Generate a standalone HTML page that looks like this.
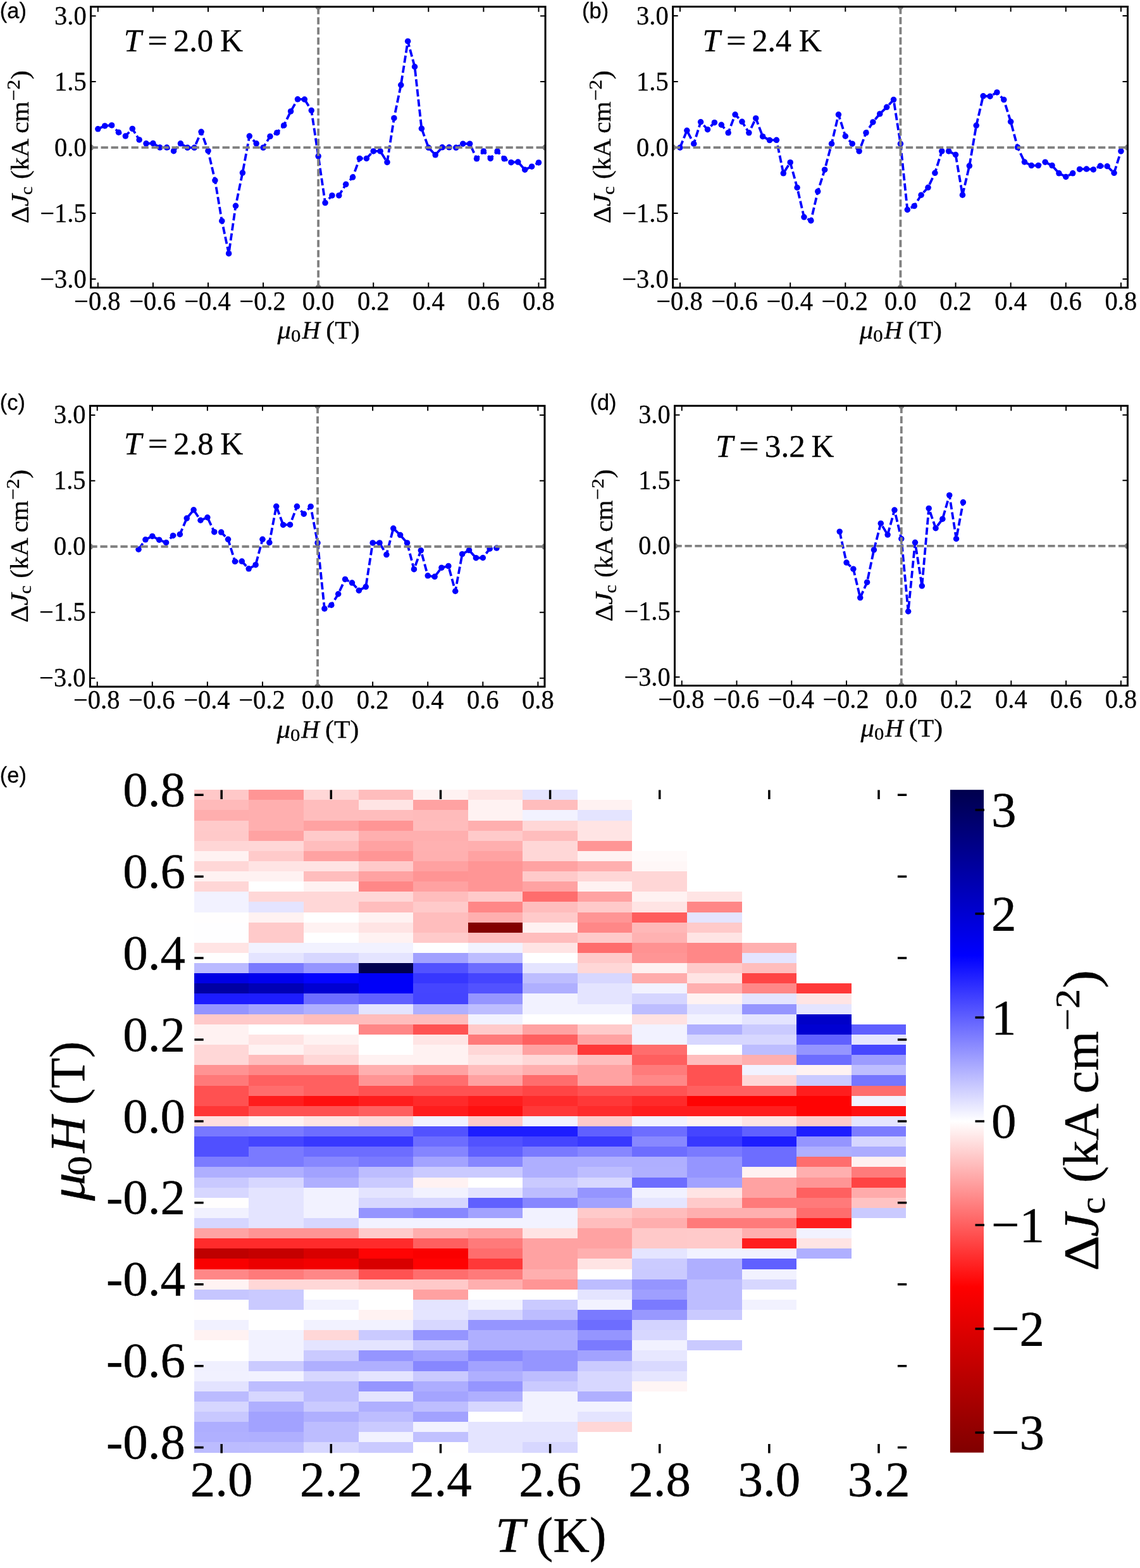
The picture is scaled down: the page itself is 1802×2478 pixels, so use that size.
<!DOCTYPE html>
<html lang="en"><head><meta charset="utf-8"><title>Figure</title><style>html,body{margin:0;padding:0;background:#fff}svg{display:block}</style></head>
<body>
<svg width="1802" height="2478" viewBox="0 0 1802 2478" role="img" aria-label="Figure: critical current asymmetry versus field and temperature">
<rect width="1802" height="2478" fill="#fff"/>
<g>
<path d="M154.83 454.5v-8.0M154.83 10.65v8.0M241.91 454.5v-8.0M241.91 10.65v8.0M328.99 454.5v-8.0M328.99 10.65v8.0M416.07 454.5v-8.0M416.07 10.65v8.0M503.15 454.5v-8.0M503.15 10.65v8.0M590.23 454.5v-8.0M590.23 10.65v8.0M677.31 454.5v-8.0M677.31 10.65v8.0M764.39 454.5v-8.0M764.39 10.65v8.0M851.47 454.5v-8.0M851.47 10.65v8.0M143.55 440.97h8.0M862.05 440.97h-8.0M143.55 337.02h8.0M862.05 337.02h-8.0M143.55 233.07h8.0M862.05 233.07h-8.0M143.55 129.12h8.0M862.05 129.12h-8.0M143.55 25.18h8.0M862.05 25.18h-8.0" stroke="#000" stroke-width="2" fill="none"/>
<clipPath id="clip_a"><rect x="143.55" y="10.65" width="718.5" height="443.85"/></clipPath>
<g clip-path="url(#clip_a)">
<polyline points="154.83,203.82 165.71,198.88 176.6,197.97 187.48,209.22 198.37,215.07 209.25,203.38 220.14,220.92 231.02,226.77 241.91,226.55 252.79,233.07 263.68,233.07 274.56,238.7 285.45,226.77 296.33,233.3 307.22,233.3 318.1,208.32 328.99,238.47 339.88,285.05 350.76,349.17 361.64,400.7 372.53,325.32 383.41,273.12 394.3,215.07 405.19,226.77 416.07,233.3 426.95,215.52 437.84,209.67 448.72,198.2 459.61,175.92 470.5,156.8 481.38,157.02 492.26,174.57 503.15,246.8 514.03,320.6 524.92,308.9 535.8,308.9 546.69,291.35 557.57,280.1 568.46,250.4 579.35,250.4 590.23,238.92 601.12,238.92 612,256.47 622.88,186.72 633.77,134.3 644.65,65.22 655.54,105.5 666.42,203.15 677.31,233.3 688.19,244.77 699.08,232.85 709.97,232.85 720.85,233.3 731.74,227.22 742.62,227.22 753.5,250.85 764.39,238.92 775.27,250.4 786.16,238.92 797.04,250.85 807.93,256.7 818.82,256.02 829.7,268.17 840.59,263.22 851.47,256.93" fill="none" stroke="#0000ff" stroke-width="3.8" stroke-dasharray="11.5 4.5" stroke-linejoin="round"/>
<g fill="#0000ff"><circle cx="154.83" cy="203.82" r="4.75"/><circle cx="165.71" cy="198.88" r="4.75"/><circle cx="176.6" cy="197.97" r="4.75"/><circle cx="187.48" cy="209.22" r="4.75"/><circle cx="198.37" cy="215.07" r="4.75"/><circle cx="209.25" cy="203.38" r="4.75"/><circle cx="220.14" cy="220.92" r="4.75"/><circle cx="231.02" cy="226.77" r="4.75"/><circle cx="241.91" cy="226.55" r="4.75"/><circle cx="252.79" cy="233.07" r="4.75"/><circle cx="263.68" cy="233.07" r="4.75"/><circle cx="274.56" cy="238.7" r="4.75"/><circle cx="285.45" cy="226.77" r="4.75"/><circle cx="296.33" cy="233.3" r="4.75"/><circle cx="307.22" cy="233.3" r="4.75"/><circle cx="318.1" cy="208.32" r="4.75"/><circle cx="328.99" cy="238.47" r="4.75"/><circle cx="339.88" cy="285.05" r="4.75"/><circle cx="350.76" cy="349.17" r="4.75"/><circle cx="361.64" cy="400.7" r="4.75"/><circle cx="372.53" cy="325.32" r="4.75"/><circle cx="383.41" cy="273.12" r="4.75"/><circle cx="394.3" cy="215.07" r="4.75"/><circle cx="405.19" cy="226.77" r="4.75"/><circle cx="416.07" cy="233.3" r="4.75"/><circle cx="426.95" cy="215.52" r="4.75"/><circle cx="437.84" cy="209.67" r="4.75"/><circle cx="448.72" cy="198.2" r="4.75"/><circle cx="459.61" cy="175.92" r="4.75"/><circle cx="470.5" cy="156.8" r="4.75"/><circle cx="481.38" cy="157.02" r="4.75"/><circle cx="492.26" cy="174.57" r="4.75"/><circle cx="503.15" cy="246.8" r="4.75"/><circle cx="514.03" cy="320.6" r="4.75"/><circle cx="524.92" cy="308.9" r="4.75"/><circle cx="535.8" cy="308.9" r="4.75"/><circle cx="546.69" cy="291.35" r="4.75"/><circle cx="557.57" cy="280.1" r="4.75"/><circle cx="568.46" cy="250.4" r="4.75"/><circle cx="579.35" cy="250.4" r="4.75"/><circle cx="590.23" cy="238.92" r="4.75"/><circle cx="601.12" cy="238.92" r="4.75"/><circle cx="612" cy="256.47" r="4.75"/><circle cx="622.88" cy="186.72" r="4.75"/><circle cx="633.77" cy="134.3" r="4.75"/><circle cx="644.65" cy="65.22" r="4.75"/><circle cx="655.54" cy="105.5" r="4.75"/><circle cx="666.42" cy="203.15" r="4.75"/><circle cx="677.31" cy="233.3" r="4.75"/><circle cx="688.19" cy="244.77" r="4.75"/><circle cx="699.08" cy="232.85" r="4.75"/><circle cx="709.97" cy="232.85" r="4.75"/><circle cx="720.85" cy="233.3" r="4.75"/><circle cx="731.74" cy="227.22" r="4.75"/><circle cx="742.62" cy="227.22" r="4.75"/><circle cx="753.5" cy="250.85" r="4.75"/><circle cx="764.39" cy="238.92" r="4.75"/><circle cx="775.27" cy="250.4" r="4.75"/><circle cx="786.16" cy="238.92" r="4.75"/><circle cx="797.04" cy="250.85" r="4.75"/><circle cx="807.93" cy="256.7" r="4.75"/><circle cx="818.82" cy="256.02" r="4.75"/><circle cx="829.7" cy="268.17" r="4.75"/><circle cx="840.59" cy="263.22" r="4.75"/><circle cx="851.47" cy="256.93" r="4.75"/></g>
<path d="M143.55 233.07H862.05M503.15 454.5V10.65" fill="none" stroke="#808080" stroke-width="3.8" stroke-dasharray="11.3 4.7" stroke-dashoffset="0"/>
<g fill="#808080"><circle cx="143.55" cy="233.07" r="4.75"/><circle cx="862.05" cy="233.07" r="4.75"/><circle cx="503.15" cy="10.65" r="4.75"/><circle cx="503.15" cy="454.5" r="4.75"/></g>
</g>
<rect x="143.55" y="10.65" width="718.5" height="443.85" fill="none" stroke="#000" stroke-width="3"/>
<g font-family="'Liberation Serif','DejaVu Serif',serif" font-size="41.9" fill="#000" stroke="#000" stroke-width="0.3" stroke-linejoin="round">
<text transform="translate(153.83 489.6) scale(0.9666 1)" text-anchor="middle">−0.8</text>
<text transform="translate(240.91 489.6) scale(0.9666 1)" text-anchor="middle">−0.6</text>
<text transform="translate(327.99 489.6) scale(0.9666 1)" text-anchor="middle">−0.4</text>
<text transform="translate(415.07 489.6) scale(0.9666 1)" text-anchor="middle">−0.2</text>
<text transform="translate(503.15 489.6) scale(0.9666 1)" text-anchor="middle">0.0</text>
<text transform="translate(590.23 489.6) scale(0.9666 1)" text-anchor="middle">0.2</text>
<text transform="translate(677.31 489.6) scale(0.9666 1)" text-anchor="middle">0.4</text>
<text transform="translate(764.39 489.6) scale(0.9666 1)" text-anchor="middle">0.6</text>
<text transform="translate(851.47 489.6) scale(0.9666 1)" text-anchor="middle">0.8</text>
<text transform="translate(136.65 454.57) scale(0.9666 1)" text-anchor="end">−3.0</text>
<text transform="translate(136.65 350.62) scale(0.9666 1)" text-anchor="end">−1.5</text>
<text transform="translate(136.65 246.67) scale(0.9666 1)" text-anchor="end">0.0</text>
<text transform="translate(136.65 142.72) scale(0.9666 1)" text-anchor="end">1.5</text>
<text transform="translate(136.65 38.78) scale(0.9666 1)" text-anchor="end">3.0</text>
</g>
<text transform="translate(195.7 81.1)" font-family="'Liberation Serif','DejaVu Serif',serif" font-size="50.3" font-style="italic" fill="#000" stroke="#000" stroke-width="0.3" stroke-linejoin="round">T</text>
<text transform="translate(233.28 81.1) scale(1.1125 1)" font-family="'Liberation Serif','DejaVu Serif',serif" font-size="50.3" fill="#000" stroke="#000" stroke-width="0.3" stroke-linejoin="round">=</text>
<text transform="translate(273.89 81.1) scale(1.0068 1)" font-family="'Liberation Serif','DejaVu Serif',serif" font-size="50.3" fill="#000" stroke="#000" stroke-width="0.3" stroke-linejoin="round">2.0</text>
<text transform="translate(347.91 81.1) scale(0.9943 1)" font-family="'Liberation Serif','DejaVu Serif',serif" font-size="50.3" fill="#000" stroke="#000" stroke-width="0.3" stroke-linejoin="round">K</text>
<text transform="translate(438.6 535) scale(1.0789 1)" font-family="'Liberation Serif','DejaVu Serif',serif" font-size="39.7" font-style="italic" fill="#000" stroke="#000" stroke-width="0.3" stroke-linejoin="round">μ</text>
<text transform="translate(460.11 540) scale(1.1200 1)" font-family="'Liberation Serif','DejaVu Serif',serif" font-size="27.5" fill="#000" stroke="#000" stroke-width="0.3" stroke-linejoin="round">0</text>
<text transform="translate(477.39 535) scale(0.9938 1)" font-family="'Liberation Serif','DejaVu Serif',serif" font-size="39.7" font-style="italic" fill="#000" stroke="#000" stroke-width="0.3" stroke-linejoin="round">H</text>
<text transform="translate(515.19 535) scale(1.0553 1)" font-family="'Liberation Serif','DejaVu Serif',serif" font-size="39.7" fill="#000" stroke="#000" stroke-width="0.3" stroke-linejoin="round">(T)</text>
<text transform="translate(45 353.19) rotate(-90) scale(1.0870 1)" font-family="'Liberation Serif','DejaVu Serif',serif" font-size="39.7" fill="#000" stroke="#000" stroke-width="0.3" stroke-linejoin="round">Δ</text>
<text transform="translate(45 326.2) rotate(-90) scale(1.1105 1)" font-family="'Liberation Serif','DejaVu Serif',serif" font-size="39.7" font-style="italic" fill="#000" stroke="#000" stroke-width="0.3" stroke-linejoin="round">J</text>
<text transform="translate(50.5 307.88) rotate(-90) scale(1.0818 1)" font-family="'Liberation Serif','DejaVu Serif',serif" font-size="27.5" fill="#000" stroke="#000" stroke-width="0.3" stroke-linejoin="round">c</text>
<text transform="translate(45 283.08) rotate(-90) scale(1.0397 1)" font-family="'Liberation Serif','DejaVu Serif',serif" font-size="39.7" fill="#000" stroke="#000" stroke-width="0.3" stroke-linejoin="round">(kA cm</text>
<text transform="translate(30.6 159.65) rotate(-90) scale(1.1200 1)" font-family="'Liberation Serif','DejaVu Serif',serif" font-size="28.4" fill="#000" stroke="#000" stroke-width="0.3" stroke-linejoin="round">−2</text>
<text transform="translate(45 125.48) rotate(-90) scale(1.0818 1)" font-family="'Liberation Serif','DejaVu Serif',serif" font-size="39.7" fill="#000" stroke="#000" stroke-width="0.3" stroke-linejoin="round">)</text>
</g>
<text x="-0.2" y="29.1" font-family="'Liberation Sans','DejaVu Sans',sans-serif" font-size="34.4" fill="#000" stroke="#000" stroke-width="0.3">(a)</text>
<g transform="translate(920.03 -0.16) scale(1.0005)">
<path d="M154.83 454.5v-8.0M154.83 10.65v8.0M241.91 454.5v-8.0M241.91 10.65v8.0M328.99 454.5v-8.0M328.99 10.65v8.0M416.07 454.5v-8.0M416.07 10.65v8.0M503.15 454.5v-8.0M503.15 10.65v8.0M590.23 454.5v-8.0M590.23 10.65v8.0M677.31 454.5v-8.0M677.31 10.65v8.0M764.39 454.5v-8.0M764.39 10.65v8.0M851.47 454.5v-8.0M851.47 10.65v8.0M143.55 440.97h8.0M862.05 440.97h-8.0M143.55 337.02h8.0M862.05 337.02h-8.0M143.55 233.07h8.0M862.05 233.07h-8.0M143.55 129.12h8.0M862.05 129.12h-8.0M143.55 25.18h8.0M862.05 25.18h-8.0" stroke="#000" stroke-width="2" fill="none"/>
<clipPath id="clip_b"><rect x="143.55" y="10.65" width="718.5" height="443.85"/></clipPath>
<g clip-path="url(#clip_b)">
<polyline points="154.83,233.3 165.71,206.3 176.6,227.22 187.48,192.8 198.37,204.72 209.25,193.7 220.14,197.3 231.02,209.9 241.91,181.1 252.79,192.35 263.68,209.9 274.56,186.95 285.45,215.75 296.33,221.6 307.22,221.38 318.1,273.8 328.99,256.7 339.88,296.52 350.76,343.1 361.64,348.72 372.53,302.6 383.41,268.17 394.3,227.22 405.19,181.1 416.07,215.3 426.95,227.22 437.84,238.92 448.72,209.9 459.61,193.02 470.5,179.97 481.38,169.4 492.26,157.7 503.15,227.22 514.03,331.4 524.92,325.55 535.8,308.23 546.69,296.3 557.57,273.35 568.46,238.92 579.35,238.92 590.23,244.55 601.12,308.23 612,262.1 622.88,198.42 633.77,151.85 644.65,152.3 655.54,146 666.42,157.7 677.31,192.35 688.19,232.85 699.08,256.02 709.97,261.65 720.85,261.65 731.74,256.25 742.62,261.65 753.5,273.8 764.39,279.42 775.27,273.8 786.16,267.5 797.04,267.05 807.93,267.95 818.82,262.32 829.7,262.77 840.59,273.35 851.47,238.92" fill="none" stroke="#0000ff" stroke-width="3.8" stroke-dasharray="11.5 4.5" stroke-linejoin="round"/>
<g fill="#0000ff"><circle cx="154.83" cy="233.3" r="4.75"/><circle cx="165.71" cy="206.3" r="4.75"/><circle cx="176.6" cy="227.22" r="4.75"/><circle cx="187.48" cy="192.8" r="4.75"/><circle cx="198.37" cy="204.72" r="4.75"/><circle cx="209.25" cy="193.7" r="4.75"/><circle cx="220.14" cy="197.3" r="4.75"/><circle cx="231.02" cy="209.9" r="4.75"/><circle cx="241.91" cy="181.1" r="4.75"/><circle cx="252.79" cy="192.35" r="4.75"/><circle cx="263.68" cy="209.9" r="4.75"/><circle cx="274.56" cy="186.95" r="4.75"/><circle cx="285.45" cy="215.75" r="4.75"/><circle cx="296.33" cy="221.6" r="4.75"/><circle cx="307.22" cy="221.38" r="4.75"/><circle cx="318.1" cy="273.8" r="4.75"/><circle cx="328.99" cy="256.7" r="4.75"/><circle cx="339.88" cy="296.52" r="4.75"/><circle cx="350.76" cy="343.1" r="4.75"/><circle cx="361.64" cy="348.72" r="4.75"/><circle cx="372.53" cy="302.6" r="4.75"/><circle cx="383.41" cy="268.17" r="4.75"/><circle cx="394.3" cy="227.22" r="4.75"/><circle cx="405.19" cy="181.1" r="4.75"/><circle cx="416.07" cy="215.3" r="4.75"/><circle cx="426.95" cy="227.22" r="4.75"/><circle cx="437.84" cy="238.92" r="4.75"/><circle cx="448.72" cy="209.9" r="4.75"/><circle cx="459.61" cy="193.02" r="4.75"/><circle cx="470.5" cy="179.97" r="4.75"/><circle cx="481.38" cy="169.4" r="4.75"/><circle cx="492.26" cy="157.7" r="4.75"/><circle cx="503.15" cy="227.22" r="4.75"/><circle cx="514.03" cy="331.4" r="4.75"/><circle cx="524.92" cy="325.55" r="4.75"/><circle cx="535.8" cy="308.23" r="4.75"/><circle cx="546.69" cy="296.3" r="4.75"/><circle cx="557.57" cy="273.35" r="4.75"/><circle cx="568.46" cy="238.92" r="4.75"/><circle cx="579.35" cy="238.92" r="4.75"/><circle cx="590.23" cy="244.55" r="4.75"/><circle cx="601.12" cy="308.23" r="4.75"/><circle cx="612" cy="262.1" r="4.75"/><circle cx="622.88" cy="198.42" r="4.75"/><circle cx="633.77" cy="151.85" r="4.75"/><circle cx="644.65" cy="152.3" r="4.75"/><circle cx="655.54" cy="146" r="4.75"/><circle cx="666.42" cy="157.7" r="4.75"/><circle cx="677.31" cy="192.35" r="4.75"/><circle cx="688.19" cy="232.85" r="4.75"/><circle cx="699.08" cy="256.02" r="4.75"/><circle cx="709.97" cy="261.65" r="4.75"/><circle cx="720.85" cy="261.65" r="4.75"/><circle cx="731.74" cy="256.25" r="4.75"/><circle cx="742.62" cy="261.65" r="4.75"/><circle cx="753.5" cy="273.8" r="4.75"/><circle cx="764.39" cy="279.42" r="4.75"/><circle cx="775.27" cy="273.8" r="4.75"/><circle cx="786.16" cy="267.5" r="4.75"/><circle cx="797.04" cy="267.05" r="4.75"/><circle cx="807.93" cy="267.95" r="4.75"/><circle cx="818.82" cy="262.32" r="4.75"/><circle cx="829.7" cy="262.77" r="4.75"/><circle cx="840.59" cy="273.35" r="4.75"/><circle cx="851.47" cy="238.92" r="4.75"/></g>
<path d="M143.55 233.07H862.05M503.15 454.5V10.65" fill="none" stroke="#808080" stroke-width="3.8" stroke-dasharray="11.3 4.7" stroke-dashoffset="0"/>
<g fill="#808080"><circle cx="143.55" cy="233.07" r="4.75"/><circle cx="862.05" cy="233.07" r="4.75"/><circle cx="503.15" cy="10.65" r="4.75"/><circle cx="503.15" cy="454.5" r="4.75"/></g>
</g>
<rect x="143.55" y="10.65" width="718.5" height="443.85" fill="none" stroke="#000" stroke-width="3"/>
<g font-family="'Liberation Serif','DejaVu Serif',serif" font-size="41.9" fill="#000" stroke="#000" stroke-width="0.3" stroke-linejoin="round">
<text transform="translate(153.83 489.6) scale(0.9666 1)" text-anchor="middle">−0.8</text>
<text transform="translate(240.91 489.6) scale(0.9666 1)" text-anchor="middle">−0.6</text>
<text transform="translate(327.99 489.6) scale(0.9666 1)" text-anchor="middle">−0.4</text>
<text transform="translate(415.07 489.6) scale(0.9666 1)" text-anchor="middle">−0.2</text>
<text transform="translate(503.15 489.6) scale(0.9666 1)" text-anchor="middle">0.0</text>
<text transform="translate(590.23 489.6) scale(0.9666 1)" text-anchor="middle">0.2</text>
<text transform="translate(677.31 489.6) scale(0.9666 1)" text-anchor="middle">0.4</text>
<text transform="translate(764.39 489.6) scale(0.9666 1)" text-anchor="middle">0.6</text>
<text transform="translate(851.47 489.6) scale(0.9666 1)" text-anchor="middle">0.8</text>
<text transform="translate(136.65 454.57) scale(0.9666 1)" text-anchor="end">−3.0</text>
<text transform="translate(136.65 350.62) scale(0.9666 1)" text-anchor="end">−1.5</text>
<text transform="translate(136.65 246.67) scale(0.9666 1)" text-anchor="end">0.0</text>
<text transform="translate(136.65 142.72) scale(0.9666 1)" text-anchor="end">1.5</text>
<text transform="translate(136.65 38.78) scale(0.9666 1)" text-anchor="end">3.0</text>
</g>
<text transform="translate(190.3 81.4)" font-family="'Liberation Serif','DejaVu Serif',serif" font-size="50.3" font-style="italic" fill="#000" stroke="#000" stroke-width="0.3" stroke-linejoin="round">T</text>
<text transform="translate(227.88 81.4) scale(1.1125 1)" font-family="'Liberation Serif','DejaVu Serif',serif" font-size="50.3" fill="#000" stroke="#000" stroke-width="0.3" stroke-linejoin="round">=</text>
<text transform="translate(268.52 81.4) scale(0.9900 1)" font-family="'Liberation Serif','DejaVu Serif',serif" font-size="50.3" fill="#000" stroke="#000" stroke-width="0.3" stroke-linejoin="round">2.4</text>
<text transform="translate(342.51 81.4) scale(0.9943 1)" font-family="'Liberation Serif','DejaVu Serif',serif" font-size="50.3" fill="#000" stroke="#000" stroke-width="0.3" stroke-linejoin="round">K</text>
<text transform="translate(438.6 535) scale(1.0789 1)" font-family="'Liberation Serif','DejaVu Serif',serif" font-size="39.7" font-style="italic" fill="#000" stroke="#000" stroke-width="0.3" stroke-linejoin="round">μ</text>
<text transform="translate(460.11 540) scale(1.1200 1)" font-family="'Liberation Serif','DejaVu Serif',serif" font-size="27.5" fill="#000" stroke="#000" stroke-width="0.3" stroke-linejoin="round">0</text>
<text transform="translate(477.39 535) scale(0.9938 1)" font-family="'Liberation Serif','DejaVu Serif',serif" font-size="39.7" font-style="italic" fill="#000" stroke="#000" stroke-width="0.3" stroke-linejoin="round">H</text>
<text transform="translate(515.19 535) scale(1.0553 1)" font-family="'Liberation Serif','DejaVu Serif',serif" font-size="39.7" fill="#000" stroke="#000" stroke-width="0.3" stroke-linejoin="round">(T)</text>
<text transform="translate(45 353.19) rotate(-90) scale(1.0870 1)" font-family="'Liberation Serif','DejaVu Serif',serif" font-size="39.7" fill="#000" stroke="#000" stroke-width="0.3" stroke-linejoin="round">Δ</text>
<text transform="translate(45 326.2) rotate(-90) scale(1.1105 1)" font-family="'Liberation Serif','DejaVu Serif',serif" font-size="39.7" font-style="italic" fill="#000" stroke="#000" stroke-width="0.3" stroke-linejoin="round">J</text>
<text transform="translate(50.5 307.88) rotate(-90) scale(1.0818 1)" font-family="'Liberation Serif','DejaVu Serif',serif" font-size="27.5" fill="#000" stroke="#000" stroke-width="0.3" stroke-linejoin="round">c</text>
<text transform="translate(45 283.08) rotate(-90) scale(1.0397 1)" font-family="'Liberation Serif','DejaVu Serif',serif" font-size="39.7" fill="#000" stroke="#000" stroke-width="0.3" stroke-linejoin="round">(kA cm</text>
<text transform="translate(30.6 159.65) rotate(-90) scale(1.1200 1)" font-family="'Liberation Serif','DejaVu Serif',serif" font-size="28.4" fill="#000" stroke="#000" stroke-width="0.3" stroke-linejoin="round">−2</text>
<text transform="translate(45 125.48) rotate(-90) scale(1.0818 1)" font-family="'Liberation Serif','DejaVu Serif',serif" font-size="39.7" fill="#000" stroke="#000" stroke-width="0.3" stroke-linejoin="round">)</text>
</g>
<text x="920.1" y="29.1" font-family="'Liberation Sans','DejaVu Sans',sans-serif" font-size="34.4" fill="#000" stroke="#000" stroke-width="0.3">(b)</text>
<g transform="translate(-1.1 630.7)">
<path d="M154.83 454.5v-8.0M154.83 10.65v8.0M241.91 454.5v-8.0M241.91 10.65v8.0M328.99 454.5v-8.0M328.99 10.65v8.0M416.07 454.5v-8.0M416.07 10.65v8.0M503.15 454.5v-8.0M503.15 10.65v8.0M590.23 454.5v-8.0M590.23 10.65v8.0M677.31 454.5v-8.0M677.31 10.65v8.0M764.39 454.5v-8.0M764.39 10.65v8.0M851.47 454.5v-8.0M851.47 10.65v8.0M143.55 440.97h8.0M862.05 440.97h-8.0M143.55 337.02h8.0M862.05 337.02h-8.0M143.55 233.07h8.0M862.05 233.07h-8.0M143.55 129.12h8.0M862.05 129.12h-8.0M143.55 25.18h8.0M862.05 25.18h-8.0" stroke="#000" stroke-width="2" fill="none"/>
<clipPath id="clip_c"><rect x="143.55" y="10.65" width="718.5" height="443.85"/></clipPath>
<g clip-path="url(#clip_c)">
<polyline points="220.14,237.56 231.02,222.07 241.91,216.69 252.79,222.52 263.68,226.79 274.56,215.79 285.45,213.77 296.33,188.4 307.22,175.16 318.1,191.54 328.99,187.05 339.88,209.95 350.76,210.4 361.64,221.63 372.53,256.65 383.41,256.42 394.3,268.1 405.19,262.03 416.07,221.63 426.95,226.79 437.84,169.54 448.72,198.73 459.61,198.5 470.5,169.54 481.38,181.44 492.26,169.77 503.15,227.24 514.03,331.18 524.92,325.56 535.8,308.05 546.69,284.71 557.57,290.32 568.46,302.44 579.35,296.61 590.23,227.24 601.12,227.24 612,245.87 622.88,204.34 633.77,214.89 644.65,227.24 655.54,268.99 666.42,239.14 677.31,279.1 688.19,280.67 699.08,266.52 709.97,263.83 720.85,303.56 731.74,244.97 742.62,238.91 753.5,251.03 764.39,250.81 775.27,236.44 786.16,235.32" fill="none" stroke="#0000ff" stroke-width="3.8" stroke-dasharray="11.5 4.5" stroke-linejoin="round"/>
<g fill="#0000ff"><circle cx="220.14" cy="237.56" r="4.75"/><circle cx="231.02" cy="222.07" r="4.75"/><circle cx="241.91" cy="216.69" r="4.75"/><circle cx="252.79" cy="222.52" r="4.75"/><circle cx="263.68" cy="226.79" r="4.75"/><circle cx="274.56" cy="215.79" r="4.75"/><circle cx="285.45" cy="213.77" r="4.75"/><circle cx="296.33" cy="188.4" r="4.75"/><circle cx="307.22" cy="175.16" r="4.75"/><circle cx="318.1" cy="191.54" r="4.75"/><circle cx="328.99" cy="187.05" r="4.75"/><circle cx="339.88" cy="209.95" r="4.75"/><circle cx="350.76" cy="210.4" r="4.75"/><circle cx="361.64" cy="221.63" r="4.75"/><circle cx="372.53" cy="256.65" r="4.75"/><circle cx="383.41" cy="256.42" r="4.75"/><circle cx="394.3" cy="268.1" r="4.75"/><circle cx="405.19" cy="262.03" r="4.75"/><circle cx="416.07" cy="221.63" r="4.75"/><circle cx="426.95" cy="226.79" r="4.75"/><circle cx="437.84" cy="169.54" r="4.75"/><circle cx="448.72" cy="198.73" r="4.75"/><circle cx="459.61" cy="198.5" r="4.75"/><circle cx="470.5" cy="169.54" r="4.75"/><circle cx="481.38" cy="181.44" r="4.75"/><circle cx="492.26" cy="169.77" r="4.75"/><circle cx="503.15" cy="227.24" r="4.75"/><circle cx="514.03" cy="331.18" r="4.75"/><circle cx="524.92" cy="325.56" r="4.75"/><circle cx="535.8" cy="308.05" r="4.75"/><circle cx="546.69" cy="284.71" r="4.75"/><circle cx="557.57" cy="290.32" r="4.75"/><circle cx="568.46" cy="302.44" r="4.75"/><circle cx="579.35" cy="296.61" r="4.75"/><circle cx="590.23" cy="227.24" r="4.75"/><circle cx="601.12" cy="227.24" r="4.75"/><circle cx="612" cy="245.87" r="4.75"/><circle cx="622.88" cy="204.34" r="4.75"/><circle cx="633.77" cy="214.89" r="4.75"/><circle cx="644.65" cy="227.24" r="4.75"/><circle cx="655.54" cy="268.99" r="4.75"/><circle cx="666.42" cy="239.14" r="4.75"/><circle cx="677.31" cy="279.1" r="4.75"/><circle cx="688.19" cy="280.67" r="4.75"/><circle cx="699.08" cy="266.52" r="4.75"/><circle cx="709.97" cy="263.83" r="4.75"/><circle cx="720.85" cy="303.56" r="4.75"/><circle cx="731.74" cy="244.97" r="4.75"/><circle cx="742.62" cy="238.91" r="4.75"/><circle cx="753.5" cy="251.03" r="4.75"/><circle cx="764.39" cy="250.81" r="4.75"/><circle cx="775.27" cy="236.44" r="4.75"/><circle cx="786.16" cy="235.32" r="4.75"/></g>
<path d="M143.55 233.07H862.05M503.15 454.5V10.65" fill="none" stroke="#808080" stroke-width="3.8" stroke-dasharray="11.3 4.7" stroke-dashoffset="0"/>
<g fill="#808080"><circle cx="143.55" cy="233.07" r="4.75"/><circle cx="862.05" cy="233.07" r="4.75"/><circle cx="503.15" cy="10.65" r="4.75"/><circle cx="503.15" cy="454.5" r="4.75"/></g>
</g>
<rect x="143.55" y="10.65" width="718.5" height="443.85" fill="none" stroke="#000" stroke-width="3"/>
<g font-family="'Liberation Serif','DejaVu Serif',serif" font-size="41.9" fill="#000" stroke="#000" stroke-width="0.3" stroke-linejoin="round">
<text transform="translate(153.83 489.6) scale(0.9666 1)" text-anchor="middle">−0.8</text>
<text transform="translate(240.91 489.6) scale(0.9666 1)" text-anchor="middle">−0.6</text>
<text transform="translate(327.99 489.6) scale(0.9666 1)" text-anchor="middle">−0.4</text>
<text transform="translate(415.07 489.6) scale(0.9666 1)" text-anchor="middle">−0.2</text>
<text transform="translate(503.15 489.6) scale(0.9666 1)" text-anchor="middle">0.0</text>
<text transform="translate(590.23 489.6) scale(0.9666 1)" text-anchor="middle">0.2</text>
<text transform="translate(677.31 489.6) scale(0.9666 1)" text-anchor="middle">0.4</text>
<text transform="translate(764.39 489.6) scale(0.9666 1)" text-anchor="middle">0.6</text>
<text transform="translate(851.47 489.6) scale(0.9666 1)" text-anchor="middle">0.8</text>
<text transform="translate(136.65 454.57) scale(0.9666 1)" text-anchor="end">−3.0</text>
<text transform="translate(136.65 350.62) scale(0.9666 1)" text-anchor="end">−1.5</text>
<text transform="translate(136.65 246.67) scale(0.9666 1)" text-anchor="end">0.0</text>
<text transform="translate(136.65 142.72) scale(0.9666 1)" text-anchor="end">1.5</text>
<text transform="translate(136.65 38.78) scale(0.9666 1)" text-anchor="end">3.0</text>
</g>
<text transform="translate(197.2 87.3)" font-family="'Liberation Serif','DejaVu Serif',serif" font-size="50.3" font-style="italic" fill="#000" stroke="#000" stroke-width="0.3" stroke-linejoin="round">T</text>
<text transform="translate(234.78 87.3) scale(1.1125 1)" font-family="'Liberation Serif','DejaVu Serif',serif" font-size="50.3" fill="#000" stroke="#000" stroke-width="0.3" stroke-linejoin="round">=</text>
<text transform="translate(275.39 87.3) scale(1.0068 1)" font-family="'Liberation Serif','DejaVu Serif',serif" font-size="50.3" fill="#000" stroke="#000" stroke-width="0.3" stroke-linejoin="round">2.8</text>
<text transform="translate(349.41 87.3) scale(0.9943 1)" font-family="'Liberation Serif','DejaVu Serif',serif" font-size="50.3" fill="#000" stroke="#000" stroke-width="0.3" stroke-linejoin="round">K</text>
<text transform="translate(438.6 535) scale(1.0789 1)" font-family="'Liberation Serif','DejaVu Serif',serif" font-size="39.7" font-style="italic" fill="#000" stroke="#000" stroke-width="0.3" stroke-linejoin="round">μ</text>
<text transform="translate(460.11 540) scale(1.1200 1)" font-family="'Liberation Serif','DejaVu Serif',serif" font-size="27.5" fill="#000" stroke="#000" stroke-width="0.3" stroke-linejoin="round">0</text>
<text transform="translate(477.39 535) scale(0.9938 1)" font-family="'Liberation Serif','DejaVu Serif',serif" font-size="39.7" font-style="italic" fill="#000" stroke="#000" stroke-width="0.3" stroke-linejoin="round">H</text>
<text transform="translate(515.19 535) scale(1.0553 1)" font-family="'Liberation Serif','DejaVu Serif',serif" font-size="39.7" fill="#000" stroke="#000" stroke-width="0.3" stroke-linejoin="round">(T)</text>
<text transform="translate(45 353.19) rotate(-90) scale(1.0870 1)" font-family="'Liberation Serif','DejaVu Serif',serif" font-size="39.7" fill="#000" stroke="#000" stroke-width="0.3" stroke-linejoin="round">Δ</text>
<text transform="translate(45 326.2) rotate(-90) scale(1.1105 1)" font-family="'Liberation Serif','DejaVu Serif',serif" font-size="39.7" font-style="italic" fill="#000" stroke="#000" stroke-width="0.3" stroke-linejoin="round">J</text>
<text transform="translate(50.5 307.88) rotate(-90) scale(1.0818 1)" font-family="'Liberation Serif','DejaVu Serif',serif" font-size="27.5" fill="#000" stroke="#000" stroke-width="0.3" stroke-linejoin="round">c</text>
<text transform="translate(45 283.08) rotate(-90) scale(1.0397 1)" font-family="'Liberation Serif','DejaVu Serif',serif" font-size="39.7" fill="#000" stroke="#000" stroke-width="0.3" stroke-linejoin="round">(kA cm</text>
<text transform="translate(30.6 159.65) rotate(-90) scale(1.1200 1)" font-family="'Liberation Serif','DejaVu Serif',serif" font-size="28.4" fill="#000" stroke="#000" stroke-width="0.3" stroke-linejoin="round">−2</text>
<text transform="translate(45 125.48) rotate(-90) scale(1.0818 1)" font-family="'Liberation Serif','DejaVu Serif',serif" font-size="39.7" fill="#000" stroke="#000" stroke-width="0.3" stroke-linejoin="round">)</text>
</g>
<text x="-0.2" y="648.1" font-family="'Liberation Sans','DejaVu Sans',sans-serif" font-size="34.4" fill="#000" stroke="#000" stroke-width="0.3">(c)</text>
<g transform="translate(923.47 630.69) scale(0.9964)">
<path d="M154.83 454.5v-8.0M154.83 10.65v8.0M241.91 454.5v-8.0M241.91 10.65v8.0M328.99 454.5v-8.0M328.99 10.65v8.0M416.07 454.5v-8.0M416.07 10.65v8.0M503.15 454.5v-8.0M503.15 10.65v8.0M590.23 454.5v-8.0M590.23 10.65v8.0M677.31 454.5v-8.0M677.31 10.65v8.0M764.39 454.5v-8.0M764.39 10.65v8.0M851.47 454.5v-8.0M851.47 10.65v8.0M143.55 440.97h8.0M862.05 440.97h-8.0M143.55 337.02h8.0M862.05 337.02h-8.0M143.55 233.07h8.0M862.05 233.07h-8.0M143.55 129.12h8.0M862.05 129.12h-8.0M143.55 25.18h8.0M862.05 25.18h-8.0" stroke="#000" stroke-width="2" fill="none"/>
<clipPath id="clip_d"><rect x="143.55" y="10.65" width="718.5" height="443.85"/></clipPath>
<g clip-path="url(#clip_d)">
<polyline points="405.19,210.18 416.07,259.34 426.95,269.44 437.84,315.01 448.72,290.54 459.61,239.14 470.5,197.16 481.38,215.12 492.26,176.05 503.15,221.63 514.03,336.79 524.92,227.46 535.8,296.38 546.69,173.36 557.57,204.79 568.46,190.2 579.35,152.48 590.23,221.63 601.12,163.71" fill="none" stroke="#0000ff" stroke-width="3.8" stroke-dasharray="11.5 4.5" stroke-linejoin="round"/>
<g fill="#0000ff"><circle cx="405.19" cy="210.18" r="4.75"/><circle cx="416.07" cy="259.34" r="4.75"/><circle cx="426.95" cy="269.44" r="4.75"/><circle cx="437.84" cy="315.01" r="4.75"/><circle cx="448.72" cy="290.54" r="4.75"/><circle cx="459.61" cy="239.14" r="4.75"/><circle cx="470.5" cy="197.16" r="4.75"/><circle cx="481.38" cy="215.12" r="4.75"/><circle cx="492.26" cy="176.05" r="4.75"/><circle cx="503.15" cy="221.63" r="4.75"/><circle cx="514.03" cy="336.79" r="4.75"/><circle cx="524.92" cy="227.46" r="4.75"/><circle cx="535.8" cy="296.38" r="4.75"/><circle cx="546.69" cy="173.36" r="4.75"/><circle cx="557.57" cy="204.79" r="4.75"/><circle cx="568.46" cy="190.2" r="4.75"/><circle cx="579.35" cy="152.48" r="4.75"/><circle cx="590.23" cy="221.63" r="4.75"/><circle cx="601.12" cy="163.71" r="4.75"/></g>
<path d="M143.55 233.07H862.05M503.15 454.5V10.65" fill="none" stroke="#808080" stroke-width="3.8" stroke-dasharray="11.3 4.7" stroke-dashoffset="0"/>
<g fill="#808080"><circle cx="143.55" cy="233.07" r="4.75"/><circle cx="862.05" cy="233.07" r="4.75"/><circle cx="503.15" cy="10.65" r="4.75"/><circle cx="503.15" cy="454.5" r="4.75"/></g>
</g>
<rect x="143.55" y="10.65" width="718.5" height="443.85" fill="none" stroke="#000" stroke-width="3"/>
<g font-family="'Liberation Serif','DejaVu Serif',serif" font-size="41.9" fill="#000" stroke="#000" stroke-width="0.3" stroke-linejoin="round">
<text transform="translate(153.83 489.6) scale(0.9666 1)" text-anchor="middle">−0.8</text>
<text transform="translate(240.91 489.6) scale(0.9666 1)" text-anchor="middle">−0.6</text>
<text transform="translate(327.99 489.6) scale(0.9666 1)" text-anchor="middle">−0.4</text>
<text transform="translate(415.07 489.6) scale(0.9666 1)" text-anchor="middle">−0.2</text>
<text transform="translate(503.15 489.6) scale(0.9666 1)" text-anchor="middle">0.0</text>
<text transform="translate(590.23 489.6) scale(0.9666 1)" text-anchor="middle">0.2</text>
<text transform="translate(677.31 489.6) scale(0.9666 1)" text-anchor="middle">0.4</text>
<text transform="translate(764.39 489.6) scale(0.9666 1)" text-anchor="middle">0.6</text>
<text transform="translate(851.47 489.6) scale(0.9666 1)" text-anchor="middle">0.8</text>
<text transform="translate(136.65 454.57) scale(0.9666 1)" text-anchor="end">−3.0</text>
<text transform="translate(136.65 350.62) scale(0.9666 1)" text-anchor="end">−1.5</text>
<text transform="translate(136.65 246.67) scale(0.9666 1)" text-anchor="end">0.0</text>
<text transform="translate(136.65 142.72) scale(0.9666 1)" text-anchor="end">1.5</text>
<text transform="translate(136.65 38.78) scale(0.9666 1)" text-anchor="end">3.0</text>
</g>
<text transform="translate(208.2 91.6)" font-family="'Liberation Serif','DejaVu Serif',serif" font-size="50.3" font-style="italic" fill="#000" stroke="#000" stroke-width="0.3" stroke-linejoin="round">T</text>
<text transform="translate(245.78 91.6) scale(1.1125 1)" font-family="'Liberation Serif','DejaVu Serif',serif" font-size="50.3" fill="#000" stroke="#000" stroke-width="0.3" stroke-linejoin="round">=</text>
<text transform="translate(286.35 91.6) scale(1.0241 1)" font-family="'Liberation Serif','DejaVu Serif',serif" font-size="50.3" fill="#000" stroke="#000" stroke-width="0.3" stroke-linejoin="round">3.2</text>
<text transform="translate(360.41 91.6) scale(0.9943 1)" font-family="'Liberation Serif','DejaVu Serif',serif" font-size="50.3" fill="#000" stroke="#000" stroke-width="0.3" stroke-linejoin="round">K</text>
<text transform="translate(438.6 535) scale(1.0789 1)" font-family="'Liberation Serif','DejaVu Serif',serif" font-size="39.7" font-style="italic" fill="#000" stroke="#000" stroke-width="0.3" stroke-linejoin="round">μ</text>
<text transform="translate(460.11 540) scale(1.1200 1)" font-family="'Liberation Serif','DejaVu Serif',serif" font-size="27.5" fill="#000" stroke="#000" stroke-width="0.3" stroke-linejoin="round">0</text>
<text transform="translate(477.39 535) scale(0.9938 1)" font-family="'Liberation Serif','DejaVu Serif',serif" font-size="39.7" font-style="italic" fill="#000" stroke="#000" stroke-width="0.3" stroke-linejoin="round">H</text>
<text transform="translate(515.19 535) scale(1.0553 1)" font-family="'Liberation Serif','DejaVu Serif',serif" font-size="39.7" fill="#000" stroke="#000" stroke-width="0.3" stroke-linejoin="round">(T)</text>
<text transform="translate(45 353.19) rotate(-90) scale(1.0870 1)" font-family="'Liberation Serif','DejaVu Serif',serif" font-size="39.7" fill="#000" stroke="#000" stroke-width="0.3" stroke-linejoin="round">Δ</text>
<text transform="translate(45 326.2) rotate(-90) scale(1.1105 1)" font-family="'Liberation Serif','DejaVu Serif',serif" font-size="39.7" font-style="italic" fill="#000" stroke="#000" stroke-width="0.3" stroke-linejoin="round">J</text>
<text transform="translate(50.5 307.88) rotate(-90) scale(1.0818 1)" font-family="'Liberation Serif','DejaVu Serif',serif" font-size="27.5" fill="#000" stroke="#000" stroke-width="0.3" stroke-linejoin="round">c</text>
<text transform="translate(45 283.08) rotate(-90) scale(1.0397 1)" font-family="'Liberation Serif','DejaVu Serif',serif" font-size="39.7" fill="#000" stroke="#000" stroke-width="0.3" stroke-linejoin="round">(kA cm</text>
<text transform="translate(30.6 159.65) rotate(-90) scale(1.1200 1)" font-family="'Liberation Serif','DejaVu Serif',serif" font-size="28.4" fill="#000" stroke="#000" stroke-width="0.3" stroke-linejoin="round">−2</text>
<text transform="translate(45 125.48) rotate(-90) scale(1.0818 1)" font-family="'Liberation Serif','DejaVu Serif',serif" font-size="39.7" fill="#000" stroke="#000" stroke-width="0.3" stroke-linejoin="round">)</text>
</g>
<text x="932.5" y="648" font-family="'Liberation Sans','DejaVu Sans',sans-serif" font-size="34.4" fill="#000" stroke="#000" stroke-width="0.3">(d)</text>
<g shape-rendering="crispEdges">
<rect x="307" y="1248" width="86" height="16" fill="#ffc8c8"/>
<rect x="307" y="1264" width="86" height="16" fill="#ffbaba"/>
<rect x="307" y="1280" width="86" height="17" fill="#ffaeae"/>
<rect x="307" y="1297" width="86" height="16" fill="#ffcaca"/>
<rect x="307" y="1313" width="86" height="16" fill="#ffc9c9"/>
<rect x="307" y="1329" width="86" height="16" fill="#ffd6d6"/>
<rect x="307" y="1345" width="86" height="16" fill="#fff2f2"/>
<rect x="307" y="1361" width="86" height="16" fill="#ffd7d7"/>
<rect x="307" y="1377" width="86" height="16" fill="#fff2f2"/>
<rect x="307" y="1393" width="86" height="16" fill="#ffd6d6"/>
<rect x="307" y="1409" width="86" height="33" fill="#f2f2ff"/>
<rect x="307" y="1442" width="86" height="16" fill="#fffefe"/>
<rect x="307" y="1458" width="86" height="32" fill="#fefeff"/>
<rect x="307" y="1490" width="86" height="16" fill="#ffe4e4"/>
<rect x="307" y="1506" width="86" height="16" fill="#fffefe"/>
<rect x="307" y="1522" width="86" height="16" fill="#babaff"/>
<rect x="307" y="1538" width="86" height="16" fill="#0000e4"/>
<rect x="307" y="1554" width="86" height="16" fill="#0000a3"/>
<rect x="307" y="1570" width="86" height="17" fill="#1c1cff"/>
<rect x="307" y="1587" width="86" height="16" fill="#9494ff"/>
<rect x="307" y="1603" width="86" height="16" fill="#ffc9c9"/>
<rect x="307" y="1619" width="86" height="32" fill="#fff2f2"/>
<rect x="307" y="1651" width="86" height="32" fill="#ffd7d7"/>
<rect x="307" y="1683" width="86" height="16" fill="#ff9393"/>
<rect x="307" y="1699" width="86" height="17" fill="#ff7979"/>
<rect x="307" y="1716" width="86" height="32" fill="#ff5151"/>
<rect x="307" y="1748" width="86" height="16" fill="#ff3636"/>
<rect x="307" y="1764" width="86" height="16" fill="#ffdfdf"/>
<rect x="307" y="1780" width="86" height="16" fill="#7878ff"/>
<rect x="307" y="1796" width="86" height="32" fill="#5050ff"/>
<rect x="307" y="1828" width="86" height="16" fill="#7c7cff"/>
<rect x="307" y="1844" width="86" height="17" fill="#afafff"/>
<rect x="307" y="1861" width="86" height="16" fill="#c9c9ff"/>
<rect x="307" y="1877" width="86" height="16" fill="#d7d7ff"/>
<rect x="307" y="1893" width="86" height="16" fill="#fffefe"/>
<rect x="307" y="1909" width="86" height="16" fill="#f1f1ff"/>
<rect x="307" y="1925" width="86" height="16" fill="#d6d6ff"/>
<rect x="307" y="1941" width="86" height="16" fill="#ffa3a3"/>
<rect x="307" y="1957" width="86" height="16" fill="#ff2b2b"/>
<rect x="307" y="1973" width="86" height="16" fill="#be0000"/>
<rect x="307" y="1989" width="86" height="17" fill="#f90000"/>
<rect x="307" y="2006" width="86" height="16" fill="#ff8787"/>
<rect x="307" y="2022" width="86" height="16" fill="#fff3f3"/>
<rect x="307" y="2038" width="86" height="16" fill="#c6c6ff"/>
<rect x="307" y="2054" width="86" height="32" fill="#fffefe"/>
<rect x="307" y="2086" width="86" height="16" fill="#f1f1ff"/>
<rect x="307" y="2102" width="86" height="16" fill="#fff2f2"/>
<rect x="307" y="2151" width="86" height="16" fill="#f0f0ff"/>
<rect x="307" y="2167" width="86" height="16" fill="#f1f1ff"/>
<rect x="307" y="2183" width="86" height="16" fill="#e3e3ff"/>
<rect x="307" y="2199" width="86" height="16" fill="#bbbbff"/>
<rect x="307" y="2215" width="86" height="16" fill="#d6d6ff"/>
<rect x="307" y="2231" width="86" height="16" fill="#c8c8ff"/>
<rect x="307" y="2247" width="86" height="16" fill="#aeaeff"/>
<rect x="307" y="2263" width="86" height="16" fill="#b0b0ff"/>
<rect x="307" y="2279" width="86" height="17" fill="#bcbcff"/>
<rect x="393" y="1248" width="87" height="16" fill="#ff9595"/>
<rect x="393" y="1264" width="87" height="49" fill="#ffafaf"/>
<rect x="393" y="1313" width="87" height="16" fill="#ffa2a2"/>
<rect x="393" y="1329" width="87" height="16" fill="#ffd7d7"/>
<rect x="393" y="1345" width="87" height="16" fill="#ffcaca"/>
<rect x="393" y="1361" width="87" height="16" fill="#ffe4e4"/>
<rect x="393" y="1377" width="87" height="16" fill="#fff2f2"/>
<rect x="393" y="1409" width="87" height="16" fill="#ffd7d7"/>
<rect x="393" y="1425" width="87" height="17" fill="#e4e4ff"/>
<rect x="393" y="1442" width="87" height="16" fill="#fff2f2"/>
<rect x="393" y="1458" width="87" height="32" fill="#ffcaca"/>
<rect x="393" y="1490" width="87" height="16" fill="#f2f2ff"/>
<rect x="393" y="1506" width="87" height="16" fill="#e4e4ff"/>
<rect x="393" y="1522" width="87" height="16" fill="#7a7aff"/>
<rect x="393" y="1538" width="87" height="16" fill="#0000ee"/>
<rect x="393" y="1554" width="87" height="16" fill="#0000b6"/>
<rect x="393" y="1570" width="87" height="17" fill="#1d1dff"/>
<rect x="393" y="1587" width="87" height="16" fill="#a2a2ff"/>
<rect x="393" y="1603" width="87" height="16" fill="#ffcaca"/>
<rect x="393" y="1635" width="87" height="16" fill="#ffe4e4"/>
<rect x="393" y="1651" width="87" height="16" fill="#fff2f2"/>
<rect x="393" y="1667" width="87" height="16" fill="#ffbdbd"/>
<rect x="393" y="1683" width="87" height="16" fill="#ff8787"/>
<rect x="393" y="1699" width="87" height="17" fill="#ff6060"/>
<rect x="393" y="1716" width="87" height="16" fill="#ff6d6d"/>
<rect x="393" y="1732" width="87" height="16" fill="#ff1d1d"/>
<rect x="393" y="1748" width="87" height="16" fill="#ff5252"/>
<rect x="393" y="1764" width="87" height="16" fill="#fff2f2"/>
<rect x="393" y="1780" width="87" height="16" fill="#7a7aff"/>
<rect x="393" y="1796" width="87" height="16" fill="#4545ff"/>
<rect x="393" y="1812" width="87" height="32" fill="#7a7aff"/>
<rect x="393" y="1844" width="87" height="17" fill="#afafff"/>
<rect x="393" y="1861" width="87" height="16" fill="#d7d7ff"/>
<rect x="393" y="1877" width="87" height="64" fill="#e4e4ff"/>
<rect x="393" y="1941" width="87" height="16" fill="#ff9595"/>
<rect x="393" y="1957" width="87" height="16" fill="#ff2b2b"/>
<rect x="393" y="1973" width="87" height="16" fill="#c50000"/>
<rect x="393" y="1989" width="87" height="17" fill="#ec0000"/>
<rect x="393" y="2006" width="87" height="16" fill="#ff7a7a"/>
<rect x="393" y="2022" width="87" height="16" fill="#ffd7d7"/>
<rect x="393" y="2038" width="87" height="32" fill="#cacaff"/>
<rect x="393" y="2102" width="87" height="49" fill="#f2f2ff"/>
<rect x="393" y="2151" width="87" height="16" fill="#cacaff"/>
<rect x="393" y="2167" width="87" height="16" fill="#f2f2ff"/>
<rect x="393" y="2183" width="87" height="16" fill="#bdbdff"/>
<rect x="393" y="2199" width="87" height="16" fill="#d7d7ff"/>
<rect x="393" y="2215" width="87" height="16" fill="#afafff"/>
<rect x="393" y="2231" width="87" height="32" fill="#a2a2ff"/>
<rect x="393" y="2263" width="87" height="16" fill="#afafff"/>
<rect x="393" y="2279" width="87" height="17" fill="#bdbdff"/>
<rect x="480" y="1248" width="87" height="16" fill="#ffd7d7"/>
<rect x="480" y="1264" width="87" height="33" fill="#ffbdbd"/>
<rect x="480" y="1297" width="87" height="16" fill="#ffa2a2"/>
<rect x="480" y="1313" width="87" height="16" fill="#ffcaca"/>
<rect x="480" y="1329" width="87" height="16" fill="#ffbdbd"/>
<rect x="480" y="1345" width="87" height="16" fill="#ffa2a2"/>
<rect x="480" y="1361" width="87" height="16" fill="#ffe4e4"/>
<rect x="480" y="1377" width="87" height="16" fill="#ffbdbd"/>
<rect x="480" y="1393" width="87" height="16" fill="#fff2f2"/>
<rect x="480" y="1409" width="87" height="33" fill="#ffd7d7"/>
<rect x="480" y="1458" width="87" height="16" fill="#fff2f2"/>
<rect x="480" y="1490" width="87" height="16" fill="#f2f2ff"/>
<rect x="480" y="1506" width="87" height="16" fill="#d7d7ff"/>
<rect x="480" y="1522" width="87" height="16" fill="#9595ff"/>
<rect x="480" y="1538" width="87" height="16" fill="#0303ff"/>
<rect x="480" y="1554" width="87" height="16" fill="#0000d2"/>
<rect x="480" y="1570" width="87" height="17" fill="#6d6dff"/>
<rect x="480" y="1587" width="87" height="16" fill="#afafff"/>
<rect x="480" y="1603" width="87" height="16" fill="#ffbdbd"/>
<rect x="480" y="1635" width="87" height="16" fill="#fff2f2"/>
<rect x="480" y="1651" width="87" height="16" fill="#ffe4e4"/>
<rect x="480" y="1667" width="87" height="16" fill="#ffd7d7"/>
<rect x="480" y="1683" width="87" height="16" fill="#ff8787"/>
<rect x="480" y="1699" width="87" height="33" fill="#ff6060"/>
<rect x="480" y="1732" width="87" height="16" fill="#ff1010"/>
<rect x="480" y="1748" width="87" height="16" fill="#ff5252"/>
<rect x="480" y="1764" width="87" height="16" fill="#ffe4e4"/>
<rect x="480" y="1780" width="87" height="16" fill="#6d6dff"/>
<rect x="480" y="1796" width="87" height="16" fill="#3838ff"/>
<rect x="480" y="1812" width="87" height="16" fill="#6d6dff"/>
<rect x="480" y="1828" width="87" height="16" fill="#8787ff"/>
<rect x="480" y="1844" width="87" height="17" fill="#a2a2ff"/>
<rect x="480" y="1861" width="87" height="16" fill="#afafff"/>
<rect x="480" y="1877" width="87" height="48" fill="#f2f2ff"/>
<rect x="480" y="1925" width="87" height="16" fill="#d7d7ff"/>
<rect x="480" y="1941" width="87" height="16" fill="#ff9595"/>
<rect x="480" y="1957" width="87" height="16" fill="#ff2b2b"/>
<rect x="480" y="1973" width="87" height="16" fill="#d80000"/>
<rect x="480" y="1989" width="87" height="17" fill="#f30000"/>
<rect x="480" y="2006" width="87" height="16" fill="#ff8787"/>
<rect x="480" y="2022" width="87" height="16" fill="#ffd7d7"/>
<rect x="480" y="2054" width="87" height="16" fill="#f2f2ff"/>
<rect x="480" y="2086" width="87" height="16" fill="#f2f2ff"/>
<rect x="480" y="2102" width="87" height="16" fill="#ffd7d7"/>
<rect x="480" y="2118" width="87" height="16" fill="#e4e4ff"/>
<rect x="480" y="2134" width="87" height="17" fill="#cacaff"/>
<rect x="480" y="2151" width="87" height="16" fill="#afafff"/>
<rect x="480" y="2167" width="87" height="16" fill="#d7d7ff"/>
<rect x="480" y="2183" width="87" height="32" fill="#bdbdff"/>
<rect x="480" y="2215" width="87" height="16" fill="#cacaff"/>
<rect x="480" y="2231" width="87" height="16" fill="#afafff"/>
<rect x="480" y="2247" width="87" height="32" fill="#bdbdff"/>
<rect x="480" y="2279" width="87" height="17" fill="#d7d7ff"/>
<rect x="567" y="1248" width="86" height="16" fill="#ffbdbd"/>
<rect x="567" y="1264" width="86" height="16" fill="#ffe4e4"/>
<rect x="567" y="1280" width="86" height="17" fill="#ffbdbd"/>
<rect x="567" y="1297" width="86" height="16" fill="#ff9595"/>
<rect x="567" y="1313" width="86" height="16" fill="#ffafaf"/>
<rect x="567" y="1329" width="86" height="16" fill="#ffa2a2"/>
<rect x="567" y="1345" width="86" height="16" fill="#ff9595"/>
<rect x="567" y="1361" width="86" height="16" fill="#ffcaca"/>
<rect x="567" y="1377" width="86" height="16" fill="#ffa2a2"/>
<rect x="567" y="1393" width="86" height="16" fill="#ff8787"/>
<rect x="567" y="1409" width="86" height="16" fill="#ffd7d7"/>
<rect x="567" y="1425" width="86" height="17" fill="#ffbdbd"/>
<rect x="567" y="1442" width="86" height="16" fill="#fff2f2"/>
<rect x="567" y="1458" width="86" height="16" fill="#ffe4e4"/>
<rect x="567" y="1474" width="86" height="16" fill="#fff2f2"/>
<rect x="567" y="1490" width="86" height="16" fill="#f2f2ff"/>
<rect x="567" y="1506" width="86" height="16" fill="#e4e4ff"/>
<rect x="567" y="1522" width="86" height="16" fill="#000050"/>
<rect x="567" y="1538" width="86" height="32" fill="#0000f8"/>
<rect x="567" y="1570" width="86" height="17" fill="#6060ff"/>
<rect x="567" y="1587" width="86" height="16" fill="#e4e4ff"/>
<rect x="567" y="1603" width="86" height="16" fill="#ffbdbd"/>
<rect x="567" y="1619" width="86" height="16" fill="#ff8787"/>
<rect x="567" y="1667" width="86" height="16" fill="#fff2f2"/>
<rect x="567" y="1683" width="86" height="16" fill="#ffafaf"/>
<rect x="567" y="1699" width="86" height="17" fill="#ff9595"/>
<rect x="567" y="1716" width="86" height="16" fill="#ff5252"/>
<rect x="567" y="1732" width="86" height="16" fill="#ff1d1d"/>
<rect x="567" y="1748" width="86" height="16" fill="#ff6060"/>
<rect x="567" y="1764" width="86" height="16" fill="#ffd7d7"/>
<rect x="567" y="1780" width="86" height="16" fill="#6d6dff"/>
<rect x="567" y="1796" width="86" height="16" fill="#3838ff"/>
<rect x="567" y="1812" width="86" height="16" fill="#6d6dff"/>
<rect x="567" y="1828" width="86" height="16" fill="#7a7aff"/>
<rect x="567" y="1844" width="86" height="17" fill="#bdbdff"/>
<rect x="567" y="1861" width="86" height="16" fill="#cacaff"/>
<rect x="567" y="1877" width="86" height="16" fill="#e4e4ff"/>
<rect x="567" y="1893" width="86" height="16" fill="#d7d7ff"/>
<rect x="567" y="1909" width="86" height="16" fill="#9595ff"/>
<rect x="567" y="1925" width="86" height="16" fill="#f2f2ff"/>
<rect x="567" y="1941" width="86" height="16" fill="#ffcaca"/>
<rect x="567" y="1957" width="86" height="16" fill="#ff2b2b"/>
<rect x="567" y="1973" width="86" height="16" fill="#ff0303"/>
<rect x="567" y="1989" width="86" height="17" fill="#d80000"/>
<rect x="567" y="2006" width="86" height="16" fill="#ff5252"/>
<rect x="567" y="2022" width="86" height="16" fill="#ffcaca"/>
<rect x="567" y="2070" width="86" height="16" fill="#fff2f2"/>
<rect x="567" y="2086" width="86" height="16" fill="#f2f2ff"/>
<rect x="567" y="2102" width="86" height="16" fill="#cacaff"/>
<rect x="567" y="2118" width="86" height="16" fill="#e4e4ff"/>
<rect x="567" y="2134" width="86" height="17" fill="#9595ff"/>
<rect x="567" y="2151" width="86" height="16" fill="#afafff"/>
<rect x="567" y="2167" width="86" height="16" fill="#e4e4ff"/>
<rect x="567" y="2183" width="86" height="16" fill="#9595ff"/>
<rect x="567" y="2199" width="86" height="16" fill="#e4e4ff"/>
<rect x="567" y="2215" width="86" height="16" fill="#afafff"/>
<rect x="567" y="2231" width="86" height="16" fill="#bdbdff"/>
<rect x="567" y="2247" width="86" height="16" fill="#cacaff"/>
<rect x="567" y="2263" width="86" height="16" fill="#f2f2ff"/>
<rect x="567" y="2279" width="86" height="17" fill="#cacaff"/>
<rect x="653" y="1248" width="87" height="16" fill="#fff2f2"/>
<rect x="653" y="1264" width="87" height="16" fill="#ffa2a2"/>
<rect x="653" y="1280" width="87" height="17" fill="#ffbbbb"/>
<rect x="653" y="1297" width="87" height="16" fill="#ffbcbc"/>
<rect x="653" y="1313" width="87" height="16" fill="#ffafaf"/>
<rect x="653" y="1329" width="87" height="16" fill="#ffb1b1"/>
<rect x="653" y="1345" width="87" height="16" fill="#ffb0b0"/>
<rect x="653" y="1361" width="87" height="16" fill="#ffa1a1"/>
<rect x="653" y="1377" width="87" height="16" fill="#ff9494"/>
<rect x="653" y="1393" width="87" height="16" fill="#ffa1a1"/>
<rect x="653" y="1409" width="87" height="16" fill="#ffbdbd"/>
<rect x="653" y="1425" width="87" height="17" fill="#ffcaca"/>
<rect x="653" y="1442" width="87" height="32" fill="#ffbdbd"/>
<rect x="653" y="1474" width="87" height="16" fill="#ffcaca"/>
<rect x="653" y="1490" width="87" height="16" fill="#fefeff"/>
<rect x="653" y="1506" width="87" height="16" fill="#a1a1ff"/>
<rect x="653" y="1522" width="87" height="16" fill="#5252ff"/>
<rect x="653" y="1538" width="87" height="16" fill="#3737ff"/>
<rect x="653" y="1554" width="87" height="16" fill="#4545ff"/>
<rect x="653" y="1570" width="87" height="17" fill="#4444ff"/>
<rect x="653" y="1587" width="87" height="16" fill="#afafff"/>
<rect x="653" y="1603" width="87" height="16" fill="#ffbcbc"/>
<rect x="653" y="1619" width="87" height="16" fill="#ff5252"/>
<rect x="653" y="1635" width="87" height="16" fill="#ffe5e5"/>
<rect x="653" y="1651" width="87" height="32" fill="#fff2f2"/>
<rect x="653" y="1683" width="87" height="16" fill="#ffa2a2"/>
<rect x="653" y="1699" width="87" height="17" fill="#ff6e6e"/>
<rect x="653" y="1716" width="87" height="16" fill="#ff5252"/>
<rect x="653" y="1732" width="87" height="16" fill="#ff2a2a"/>
<rect x="653" y="1748" width="87" height="16" fill="#ff1d1d"/>
<rect x="653" y="1764" width="87" height="16" fill="#f2f2ff"/>
<rect x="653" y="1780" width="87" height="16" fill="#5252ff"/>
<rect x="653" y="1796" width="87" height="16" fill="#6d6dff"/>
<rect x="653" y="1812" width="87" height="16" fill="#8585ff"/>
<rect x="653" y="1828" width="87" height="16" fill="#a3a3ff"/>
<rect x="653" y="1844" width="87" height="17" fill="#cacaff"/>
<rect x="653" y="1861" width="87" height="16" fill="#fff2f2"/>
<rect x="653" y="1877" width="87" height="16" fill="#f2f2ff"/>
<rect x="653" y="1893" width="87" height="16" fill="#d6d6ff"/>
<rect x="653" y="1909" width="87" height="16" fill="#8787ff"/>
<rect x="653" y="1925" width="87" height="16" fill="#f2f2ff"/>
<rect x="653" y="1941" width="87" height="16" fill="#ffaeae"/>
<rect x="653" y="1957" width="87" height="16" fill="#ff5f5f"/>
<rect x="653" y="1973" width="87" height="16" fill="#fa0000"/>
<rect x="653" y="1989" width="87" height="17" fill="#ff0202"/>
<rect x="653" y="2006" width="87" height="16" fill="#ff6d6d"/>
<rect x="653" y="2022" width="87" height="16" fill="#ffc9c9"/>
<rect x="653" y="2038" width="87" height="16" fill="#ffa1a1"/>
<rect x="653" y="2054" width="87" height="16" fill="#e4e4ff"/>
<rect x="653" y="2070" width="87" height="16" fill="#e5e5ff"/>
<rect x="653" y="2086" width="87" height="16" fill="#d7d7ff"/>
<rect x="653" y="2102" width="87" height="16" fill="#9595ff"/>
<rect x="653" y="2118" width="87" height="16" fill="#cacaff"/>
<rect x="653" y="2134" width="87" height="17" fill="#a1a1ff"/>
<rect x="653" y="2151" width="87" height="16" fill="#8787ff"/>
<rect x="653" y="2167" width="87" height="16" fill="#cacaff"/>
<rect x="653" y="2183" width="87" height="16" fill="#adadff"/>
<rect x="653" y="2199" width="87" height="16" fill="#a4a4ff"/>
<rect x="653" y="2215" width="87" height="16" fill="#bebeff"/>
<rect x="653" y="2231" width="87" height="16" fill="#a2a2ff"/>
<rect x="653" y="2247" width="87" height="16" fill="#f2f2ff"/>
<rect x="653" y="2263" width="87" height="16" fill="#c1c1ff"/>
<rect x="653" y="2279" width="87" height="17" fill="#fffefe"/>
<rect x="740" y="1248" width="86" height="16" fill="#ffe4e4"/>
<rect x="740" y="1264" width="86" height="33" fill="#fff2f2"/>
<rect x="740" y="1297" width="86" height="16" fill="#ffafaf"/>
<rect x="740" y="1313" width="86" height="16" fill="#ffcaca"/>
<rect x="740" y="1329" width="86" height="16" fill="#ffafaf"/>
<rect x="740" y="1345" width="86" height="16" fill="#ffa2a2"/>
<rect x="740" y="1361" width="86" height="48" fill="#ff9595"/>
<rect x="740" y="1409" width="86" height="16" fill="#ffcaca"/>
<rect x="740" y="1425" width="86" height="17" fill="#ff8787"/>
<rect x="740" y="1442" width="86" height="16" fill="#ffafaf"/>
<rect x="740" y="1458" width="86" height="16" fill="#820000"/>
<rect x="740" y="1474" width="86" height="16" fill="#ffbdbd"/>
<rect x="740" y="1490" width="86" height="16" fill="#f2f2ff"/>
<rect x="740" y="1506" width="86" height="16" fill="#bdbdff"/>
<rect x="740" y="1522" width="86" height="16" fill="#6d6dff"/>
<rect x="740" y="1538" width="86" height="16" fill="#4545ff"/>
<rect x="740" y="1554" width="86" height="16" fill="#5252ff"/>
<rect x="740" y="1570" width="86" height="17" fill="#9595ff"/>
<rect x="740" y="1587" width="86" height="16" fill="#bdbdff"/>
<rect x="740" y="1603" width="86" height="16" fill="#f2f2ff"/>
<rect x="740" y="1619" width="86" height="16" fill="#ffcaca"/>
<rect x="740" y="1635" width="86" height="16" fill="#ff7a7a"/>
<rect x="740" y="1651" width="86" height="16" fill="#ffd7d7"/>
<rect x="740" y="1667" width="86" height="16" fill="#ffe4e4"/>
<rect x="740" y="1683" width="86" height="16" fill="#ffbdbd"/>
<rect x="740" y="1699" width="86" height="17" fill="#ffa2a2"/>
<rect x="740" y="1716" width="86" height="16" fill="#ff5252"/>
<rect x="740" y="1732" width="86" height="16" fill="#ff1d1d"/>
<rect x="740" y="1748" width="86" height="16" fill="#ff1010"/>
<rect x="740" y="1764" width="86" height="16" fill="#ffcaca"/>
<rect x="740" y="1780" width="86" height="16" fill="#1d1dff"/>
<rect x="740" y="1796" width="86" height="16" fill="#5252ff"/>
<rect x="740" y="1812" width="86" height="16" fill="#6060ff"/>
<rect x="740" y="1828" width="86" height="16" fill="#8787ff"/>
<rect x="740" y="1844" width="86" height="17" fill="#cacaff"/>
<rect x="740" y="1877" width="86" height="16" fill="#e4e4ff"/>
<rect x="740" y="1893" width="86" height="16" fill="#6060ff"/>
<rect x="740" y="1909" width="86" height="16" fill="#a2a2ff"/>
<rect x="740" y="1925" width="86" height="16" fill="#f2f2ff"/>
<rect x="740" y="1941" width="86" height="16" fill="#ffa2a2"/>
<rect x="740" y="1957" width="86" height="16" fill="#ff7a7a"/>
<rect x="740" y="1973" width="86" height="16" fill="#ff6d6d"/>
<rect x="740" y="1989" width="86" height="17" fill="#ff3838"/>
<rect x="740" y="2006" width="86" height="16" fill="#ff7a7a"/>
<rect x="740" y="2022" width="86" height="16" fill="#ffafaf"/>
<rect x="740" y="2054" width="86" height="16" fill="#f2f2ff"/>
<rect x="740" y="2070" width="86" height="16" fill="#d7d7ff"/>
<rect x="740" y="2086" width="86" height="16" fill="#9595ff"/>
<rect x="740" y="2102" width="86" height="32" fill="#afafff"/>
<rect x="740" y="2134" width="86" height="17" fill="#8787ff"/>
<rect x="740" y="2151" width="86" height="16" fill="#a2a2ff"/>
<rect x="740" y="2167" width="86" height="16" fill="#afafff"/>
<rect x="740" y="2183" width="86" height="16" fill="#9595ff"/>
<rect x="740" y="2199" width="86" height="16" fill="#afafff"/>
<rect x="740" y="2215" width="86" height="16" fill="#d7d7ff"/>
<rect x="740" y="2247" width="86" height="49" fill="#e4e4ff"/>
<rect x="826" y="1248" width="87" height="16" fill="#e4e4ff"/>
<rect x="826" y="1264" width="87" height="16" fill="#ffbdbd"/>
<rect x="826" y="1280" width="87" height="17" fill="#f2f2ff"/>
<rect x="826" y="1297" width="87" height="16" fill="#ffd7d7"/>
<rect x="826" y="1313" width="87" height="16" fill="#ffbdbd"/>
<rect x="826" y="1329" width="87" height="32" fill="#ffd7d7"/>
<rect x="826" y="1361" width="87" height="16" fill="#ffa2a2"/>
<rect x="826" y="1377" width="87" height="16" fill="#ffcaca"/>
<rect x="826" y="1393" width="87" height="16" fill="#ffa2a2"/>
<rect x="826" y="1409" width="87" height="16" fill="#ff6d6d"/>
<rect x="826" y="1425" width="87" height="17" fill="#ffbdbd"/>
<rect x="826" y="1442" width="87" height="16" fill="#ffcaca"/>
<rect x="826" y="1458" width="87" height="16" fill="#fff2f2"/>
<rect x="826" y="1474" width="87" height="16" fill="#ffbdbd"/>
<rect x="826" y="1490" width="87" height="16" fill="#ffe4e4"/>
<rect x="826" y="1522" width="87" height="16" fill="#e4e4ff"/>
<rect x="826" y="1538" width="87" height="16" fill="#bdbdff"/>
<rect x="826" y="1554" width="87" height="16" fill="#afafff"/>
<rect x="826" y="1570" width="87" height="33" fill="#f2f2ff"/>
<rect x="826" y="1619" width="87" height="16" fill="#ffa2a2"/>
<rect x="826" y="1635" width="87" height="16" fill="#ff6060"/>
<rect x="826" y="1651" width="87" height="16" fill="#ffa2a2"/>
<rect x="826" y="1667" width="87" height="16" fill="#ffd7d7"/>
<rect x="826" y="1683" width="87" height="16" fill="#ffafaf"/>
<rect x="826" y="1699" width="87" height="17" fill="#ff6d6d"/>
<rect x="826" y="1716" width="87" height="16" fill="#ff4545"/>
<rect x="826" y="1732" width="87" height="16" fill="#ff2b2b"/>
<rect x="826" y="1748" width="87" height="16" fill="#ff3838"/>
<rect x="826" y="1764" width="87" height="16" fill="#f2f2ff"/>
<rect x="826" y="1780" width="87" height="16" fill="#1d1dff"/>
<rect x="826" y="1796" width="87" height="16" fill="#4545ff"/>
<rect x="826" y="1812" width="87" height="16" fill="#7a7aff"/>
<rect x="826" y="1828" width="87" height="33" fill="#afafff"/>
<rect x="826" y="1861" width="87" height="16" fill="#cacaff"/>
<rect x="826" y="1877" width="87" height="16" fill="#bdbdff"/>
<rect x="826" y="1893" width="87" height="16" fill="#8787ff"/>
<rect x="826" y="1909" width="87" height="32" fill="#f2f2ff"/>
<rect x="826" y="1941" width="87" height="16" fill="#ffe4e4"/>
<rect x="826" y="1957" width="87" height="49" fill="#ffa2a2"/>
<rect x="826" y="2006" width="87" height="16" fill="#ffafaf"/>
<rect x="826" y="2022" width="87" height="16" fill="#ff9595"/>
<rect x="826" y="2054" width="87" height="16" fill="#cacaff"/>
<rect x="826" y="2070" width="87" height="16" fill="#bdbdff"/>
<rect x="826" y="2086" width="87" height="16" fill="#9595ff"/>
<rect x="826" y="2102" width="87" height="32" fill="#afafff"/>
<rect x="826" y="2134" width="87" height="33" fill="#9595ff"/>
<rect x="826" y="2167" width="87" height="16" fill="#bdbdff"/>
<rect x="826" y="2183" width="87" height="16" fill="#cacaff"/>
<rect x="826" y="2199" width="87" height="48" fill="#f2f2ff"/>
<rect x="826" y="2247" width="87" height="32" fill="#e4e4ff"/>
<rect x="826" y="2279" width="87" height="17" fill="#d7d7ff"/>
<rect x="913" y="1264" width="86" height="16" fill="#fff2f2"/>
<rect x="913" y="1280" width="86" height="17" fill="#e4e4ff"/>
<rect x="913" y="1297" width="86" height="32" fill="#ffe4e4"/>
<rect x="913" y="1329" width="86" height="16" fill="#ff9595"/>
<rect x="913" y="1345" width="86" height="16" fill="#fff2f2"/>
<rect x="913" y="1361" width="86" height="16" fill="#ffafaf"/>
<rect x="913" y="1377" width="86" height="16" fill="#ffd7d7"/>
<rect x="913" y="1393" width="86" height="16" fill="#fff2f2"/>
<rect x="913" y="1409" width="86" height="16" fill="#ffa2a2"/>
<rect x="913" y="1425" width="86" height="17" fill="#ffcaca"/>
<rect x="913" y="1442" width="86" height="16" fill="#ff9595"/>
<rect x="913" y="1458" width="86" height="16" fill="#ff8787"/>
<rect x="913" y="1474" width="86" height="16" fill="#ffcaca"/>
<rect x="913" y="1490" width="86" height="16" fill="#ff6d6d"/>
<rect x="913" y="1506" width="86" height="16" fill="#ffcaca"/>
<rect x="913" y="1522" width="86" height="16" fill="#ffd7d7"/>
<rect x="913" y="1538" width="86" height="16" fill="#d7d7ff"/>
<rect x="913" y="1554" width="86" height="33" fill="#e4e4ff"/>
<rect x="913" y="1587" width="86" height="16" fill="#f2f2ff"/>
<rect x="913" y="1619" width="86" height="16" fill="#ffcaca"/>
<rect x="913" y="1635" width="86" height="16" fill="#ffa2a2"/>
<rect x="913" y="1651" width="86" height="16" fill="#ff3838"/>
<rect x="913" y="1667" width="86" height="16" fill="#ffbdbd"/>
<rect x="913" y="1683" width="86" height="33" fill="#ffa2a2"/>
<rect x="913" y="1716" width="86" height="16" fill="#ff5252"/>
<rect x="913" y="1732" width="86" height="16" fill="#ff3838"/>
<rect x="913" y="1748" width="86" height="16" fill="#ff2b2b"/>
<rect x="913" y="1764" width="86" height="16" fill="#ffcaca"/>
<rect x="913" y="1780" width="86" height="16" fill="#6060ff"/>
<rect x="913" y="1796" width="86" height="16" fill="#3838ff"/>
<rect x="913" y="1812" width="86" height="16" fill="#8787ff"/>
<rect x="913" y="1828" width="86" height="16" fill="#afafff"/>
<rect x="913" y="1844" width="86" height="17" fill="#bdbdff"/>
<rect x="913" y="1861" width="86" height="16" fill="#d7d7ff"/>
<rect x="913" y="1877" width="86" height="16" fill="#9595ff"/>
<rect x="913" y="1893" width="86" height="16" fill="#a2a2ff"/>
<rect x="913" y="1909" width="86" height="16" fill="#ffcaca"/>
<rect x="913" y="1925" width="86" height="16" fill="#ffbdbd"/>
<rect x="913" y="1941" width="86" height="32" fill="#ffa2a2"/>
<rect x="913" y="1973" width="86" height="16" fill="#ffafaf"/>
<rect x="913" y="1989" width="86" height="17" fill="#ffe4e4"/>
<rect x="913" y="2022" width="86" height="16" fill="#bdbdff"/>
<rect x="913" y="2038" width="86" height="16" fill="#e4e4ff"/>
<rect x="913" y="2054" width="86" height="16" fill="#f2f2ff"/>
<rect x="913" y="2070" width="86" height="16" fill="#7a7aff"/>
<rect x="913" y="2086" width="86" height="16" fill="#6d6dff"/>
<rect x="913" y="2102" width="86" height="16" fill="#9595ff"/>
<rect x="913" y="2118" width="86" height="16" fill="#7a7aff"/>
<rect x="913" y="2134" width="86" height="17" fill="#a2a2ff"/>
<rect x="913" y="2151" width="86" height="16" fill="#cacaff"/>
<rect x="913" y="2167" width="86" height="32" fill="#d7d7ff"/>
<rect x="913" y="2199" width="86" height="16" fill="#afafff"/>
<rect x="913" y="2215" width="86" height="16" fill="#f2f2ff"/>
<rect x="913" y="2231" width="86" height="16" fill="#e4e4ff"/>
<rect x="913" y="2247" width="86" height="16" fill="#ffd7d7"/>
<rect x="999" y="1345" width="87" height="16" fill="#fffafa"/>
<rect x="999" y="1361" width="87" height="16" fill="#fff7f7"/>
<rect x="999" y="1377" width="87" height="32" fill="#ffd6d6"/>
<rect x="999" y="1409" width="87" height="16" fill="#fff2f2"/>
<rect x="999" y="1425" width="87" height="17" fill="#ffe4e4"/>
<rect x="999" y="1442" width="87" height="16" fill="#ff5d5d"/>
<rect x="999" y="1458" width="87" height="16" fill="#ffb8b8"/>
<rect x="999" y="1474" width="87" height="16" fill="#ffb2b2"/>
<rect x="999" y="1490" width="87" height="16" fill="#ff9292"/>
<rect x="999" y="1506" width="87" height="16" fill="#ff9595"/>
<rect x="999" y="1522" width="87" height="16" fill="#fff1f1"/>
<rect x="999" y="1538" width="87" height="16" fill="#ffacac"/>
<rect x="999" y="1554" width="87" height="16" fill="#f2f2ff"/>
<rect x="999" y="1570" width="87" height="17" fill="#d5d5ff"/>
<rect x="999" y="1587" width="87" height="16" fill="#bdbdff"/>
<rect x="999" y="1603" width="87" height="16" fill="#ffe2e2"/>
<rect x="999" y="1619" width="87" height="32" fill="#f2f2ff"/>
<rect x="999" y="1651" width="87" height="16" fill="#ff6d6d"/>
<rect x="999" y="1667" width="87" height="16" fill="#ff5f5f"/>
<rect x="999" y="1683" width="87" height="16" fill="#ff7b7b"/>
<rect x="999" y="1699" width="87" height="17" fill="#ff8888"/>
<rect x="999" y="1716" width="87" height="16" fill="#ff5353"/>
<rect x="999" y="1732" width="87" height="16" fill="#ff2a2a"/>
<rect x="999" y="1748" width="87" height="16" fill="#ff1d1d"/>
<rect x="999" y="1764" width="87" height="16" fill="#f2f2ff"/>
<rect x="999" y="1780" width="87" height="16" fill="#6d6dff"/>
<rect x="999" y="1796" width="87" height="16" fill="#8888ff"/>
<rect x="999" y="1812" width="87" height="16" fill="#6d6dff"/>
<rect x="999" y="1828" width="87" height="16" fill="#afafff"/>
<rect x="999" y="1844" width="87" height="17" fill="#b0b0ff"/>
<rect x="999" y="1861" width="87" height="16" fill="#6d6dff"/>
<rect x="999" y="1877" width="87" height="16" fill="#f1f1ff"/>
<rect x="999" y="1893" width="87" height="16" fill="#e5e5ff"/>
<rect x="999" y="1909" width="87" height="16" fill="#ffbcbc"/>
<rect x="999" y="1925" width="87" height="16" fill="#ffaeae"/>
<rect x="999" y="1941" width="87" height="32" fill="#ffc9c9"/>
<rect x="999" y="1973" width="87" height="16" fill="#e5e5ff"/>
<rect x="999" y="1989" width="87" height="17" fill="#cbcbff"/>
<rect x="999" y="2006" width="87" height="16" fill="#cacaff"/>
<rect x="999" y="2022" width="87" height="16" fill="#9595ff"/>
<rect x="999" y="2038" width="87" height="16" fill="#9f9fff"/>
<rect x="999" y="2054" width="87" height="16" fill="#7a7aff"/>
<rect x="999" y="2070" width="87" height="16" fill="#9898ff"/>
<rect x="999" y="2086" width="87" height="16" fill="#d3d3ff"/>
<rect x="999" y="2102" width="87" height="16" fill="#d7d7ff"/>
<rect x="999" y="2118" width="87" height="16" fill="#f1f1ff"/>
<rect x="999" y="2134" width="87" height="17" fill="#e7e7ff"/>
<rect x="999" y="2151" width="87" height="16" fill="#d9d9ff"/>
<rect x="999" y="2167" width="87" height="16" fill="#e6e6ff"/>
<rect x="999" y="2183" width="87" height="16" fill="#fff5f5"/>
<rect x="1086" y="1409" width="87" height="16" fill="#ffe4e4"/>
<rect x="1086" y="1425" width="87" height="17" fill="#ff8787"/>
<rect x="1086" y="1442" width="87" height="16" fill="#e4e4ff"/>
<rect x="1086" y="1458" width="87" height="16" fill="#ffcaca"/>
<rect x="1086" y="1474" width="87" height="16" fill="#ffe4e4"/>
<rect x="1086" y="1490" width="87" height="32" fill="#ff8787"/>
<rect x="1086" y="1522" width="87" height="16" fill="#ffcaca"/>
<rect x="1086" y="1538" width="87" height="16" fill="#ffe4e4"/>
<rect x="1086" y="1554" width="87" height="16" fill="#ffafaf"/>
<rect x="1086" y="1570" width="87" height="17" fill="#fff2f2"/>
<rect x="1086" y="1587" width="87" height="16" fill="#e4e4ff"/>
<rect x="1086" y="1603" width="87" height="16" fill="#f2f2ff"/>
<rect x="1086" y="1619" width="87" height="16" fill="#afafff"/>
<rect x="1086" y="1635" width="87" height="16" fill="#d7d7ff"/>
<rect x="1086" y="1667" width="87" height="16" fill="#ffbdbd"/>
<rect x="1086" y="1683" width="87" height="33" fill="#ff5252"/>
<rect x="1086" y="1716" width="87" height="16" fill="#ff6060"/>
<rect x="1086" y="1732" width="87" height="16" fill="#ff0303"/>
<rect x="1086" y="1748" width="87" height="16" fill="#ff1d1d"/>
<rect x="1086" y="1764" width="87" height="16" fill="#fff2f2"/>
<rect x="1086" y="1780" width="87" height="16" fill="#4545ff"/>
<rect x="1086" y="1796" width="87" height="16" fill="#3838ff"/>
<rect x="1086" y="1812" width="87" height="16" fill="#7a7aff"/>
<rect x="1086" y="1828" width="87" height="33" fill="#9595ff"/>
<rect x="1086" y="1861" width="87" height="16" fill="#a2a2ff"/>
<rect x="1086" y="1877" width="87" height="16" fill="#ffe4e4"/>
<rect x="1086" y="1893" width="87" height="16" fill="#ffcaca"/>
<rect x="1086" y="1909" width="87" height="16" fill="#ffafaf"/>
<rect x="1086" y="1925" width="87" height="16" fill="#ff7a7a"/>
<rect x="1086" y="1941" width="87" height="32" fill="#ffcaca"/>
<rect x="1086" y="1973" width="87" height="16" fill="#f2f2ff"/>
<rect x="1086" y="1989" width="87" height="33" fill="#afafff"/>
<rect x="1086" y="2022" width="87" height="48" fill="#bdbdff"/>
<rect x="1086" y="2070" width="87" height="16" fill="#cacaff"/>
<rect x="1086" y="2118" width="87" height="16" fill="#cacaff"/>
<rect x="1173" y="1490" width="86" height="16" fill="#ffafaf"/>
<rect x="1173" y="1506" width="86" height="16" fill="#e4e4ff"/>
<rect x="1173" y="1522" width="86" height="16" fill="#ffbdbd"/>
<rect x="1173" y="1538" width="86" height="16" fill="#ff4545"/>
<rect x="1173" y="1554" width="86" height="16" fill="#ff8787"/>
<rect x="1173" y="1570" width="86" height="17" fill="#e4e4ff"/>
<rect x="1173" y="1587" width="86" height="16" fill="#9595ff"/>
<rect x="1173" y="1603" width="86" height="16" fill="#e4e4ff"/>
<rect x="1173" y="1619" width="86" height="16" fill="#cacaff"/>
<rect x="1173" y="1635" width="86" height="16" fill="#d7d7ff"/>
<rect x="1173" y="1651" width="86" height="16" fill="#bdbdff"/>
<rect x="1173" y="1667" width="86" height="16" fill="#ffafaf"/>
<rect x="1173" y="1683" width="86" height="16" fill="#f2f2ff"/>
<rect x="1173" y="1699" width="86" height="17" fill="#ffd7d7"/>
<rect x="1173" y="1716" width="86" height="16" fill="#ff6060"/>
<rect x="1173" y="1732" width="86" height="16" fill="#ff0303"/>
<rect x="1173" y="1748" width="86" height="16" fill="#ff1d1d"/>
<rect x="1173" y="1764" width="86" height="16" fill="#ffe4e4"/>
<rect x="1173" y="1780" width="86" height="16" fill="#6060ff"/>
<rect x="1173" y="1796" width="86" height="16" fill="#1d1dff"/>
<rect x="1173" y="1812" width="86" height="32" fill="#6d6dff"/>
<rect x="1173" y="1844" width="86" height="17" fill="#fff2f2"/>
<rect x="1173" y="1861" width="86" height="32" fill="#ffa2a2"/>
<rect x="1173" y="1893" width="86" height="16" fill="#ff7a7a"/>
<rect x="1173" y="1909" width="86" height="16" fill="#ffafaf"/>
<rect x="1173" y="1925" width="86" height="16" fill="#ff7a7a"/>
<rect x="1173" y="1941" width="86" height="16" fill="#ffafaf"/>
<rect x="1173" y="1957" width="86" height="16" fill="#ff1d1d"/>
<rect x="1173" y="1973" width="86" height="16" fill="#f2f2ff"/>
<rect x="1173" y="1989" width="86" height="17" fill="#6060ff"/>
<rect x="1173" y="2006" width="86" height="16" fill="#f2f2ff"/>
<rect x="1173" y="2022" width="86" height="16" fill="#d7d7ff"/>
<rect x="1173" y="2054" width="86" height="16" fill="#f2f2ff"/>
<rect x="1259" y="1554" width="87" height="16" fill="#ff3838"/>
<rect x="1259" y="1570" width="87" height="17" fill="#ffe4e4"/>
<rect x="1259" y="1587" width="87" height="16" fill="#e4e4ff"/>
<rect x="1259" y="1603" width="87" height="16" fill="#0000c9"/>
<rect x="1259" y="1619" width="87" height="16" fill="#0000d2"/>
<rect x="1259" y="1635" width="87" height="16" fill="#6060ff"/>
<rect x="1259" y="1651" width="87" height="16" fill="#9595ff"/>
<rect x="1259" y="1667" width="87" height="16" fill="#6d6dff"/>
<rect x="1259" y="1683" width="87" height="16" fill="#fff2f2"/>
<rect x="1259" y="1699" width="87" height="17" fill="#cacaff"/>
<rect x="1259" y="1716" width="87" height="16" fill="#ff1d1d"/>
<rect x="1259" y="1732" width="87" height="32" fill="#ff0303"/>
<rect x="1259" y="1764" width="87" height="16" fill="#ffcaca"/>
<rect x="1259" y="1780" width="87" height="16" fill="#1d1dff"/>
<rect x="1259" y="1796" width="87" height="16" fill="#9595ff"/>
<rect x="1259" y="1812" width="87" height="16" fill="#afafff"/>
<rect x="1259" y="1828" width="87" height="16" fill="#ff6d6d"/>
<rect x="1259" y="1844" width="87" height="17" fill="#ffafaf"/>
<rect x="1259" y="1861" width="87" height="16" fill="#ff9595"/>
<rect x="1259" y="1877" width="87" height="16" fill="#ff6060"/>
<rect x="1259" y="1893" width="87" height="16" fill="#ff7a7a"/>
<rect x="1259" y="1909" width="87" height="16" fill="#ff6d6d"/>
<rect x="1259" y="1925" width="87" height="16" fill="#ff1d1d"/>
<rect x="1259" y="1941" width="87" height="16" fill="#f2f2ff"/>
<rect x="1259" y="1957" width="87" height="16" fill="#ffe4e4"/>
<rect x="1259" y="1973" width="87" height="16" fill="#afafff"/>
<rect x="1346" y="1619" width="86" height="16" fill="#5f5fff"/>
<rect x="1346" y="1635" width="86" height="16" fill="#e5e5ff"/>
<rect x="1346" y="1651" width="86" height="16" fill="#4646ff"/>
<rect x="1346" y="1667" width="86" height="16" fill="#9c9cff"/>
<rect x="1346" y="1683" width="86" height="16" fill="#bebeff"/>
<rect x="1346" y="1699" width="86" height="17" fill="#7676ff"/>
<rect x="1346" y="1716" width="86" height="16" fill="#ff6d6d"/>
<rect x="1346" y="1732" width="86" height="16" fill="#f2f2ff"/>
<rect x="1346" y="1748" width="86" height="16" fill="#ff1010"/>
<rect x="1346" y="1764" width="86" height="16" fill="#e5e5ff"/>
<rect x="1346" y="1780" width="86" height="16" fill="#7c7cff"/>
<rect x="1346" y="1796" width="86" height="16" fill="#d6d6ff"/>
<rect x="1346" y="1812" width="86" height="16" fill="#acacff"/>
<rect x="1346" y="1828" width="86" height="16" fill="#fff1f1"/>
<rect x="1346" y="1844" width="86" height="17" fill="#ff7b7b"/>
<rect x="1346" y="1861" width="86" height="16" fill="#ff4343"/>
<rect x="1346" y="1877" width="86" height="16" fill="#ffabab"/>
<rect x="1346" y="1893" width="86" height="16" fill="#ffc3c3"/>
<rect x="1346" y="1909" width="86" height="16" fill="#cacaff"/>
</g>
<path d="M350.18 2296.4v-14.3M350.18 1248.6v14.3M523.32 2296.4v-14.3M523.32 1248.6v14.3M696.46 2296.4v-14.3M696.46 1248.6v14.3M869.6 2296.4v-14.3M869.6 1248.6v14.3M1042.74 2296.4v-14.3M1042.74 1248.6v14.3M1215.88 2296.4v-14.3M1215.88 1248.6v14.3M1389.02 2296.4v-14.3M1389.02 1248.6v14.3M307.4 1256.26h14.3M1433.2 1256.26h-14.3M307.4 1385.17h14.3M1433.2 1385.17h-14.3M307.4 1514.08h14.3M1433.2 1514.08h-14.3M307.4 1642.99h14.3M1433.2 1642.99h-14.3M307.4 1771.9h14.3M1433.2 1771.9h-14.3M307.4 1900.81h14.3M1433.2 1900.81h-14.3M307.4 2029.72h14.3M1433.2 2029.72h-14.3M307.4 2158.63h14.3M1433.2 2158.63h-14.3M307.4 2287.54h14.3M1433.2 2287.54h-14.3" stroke="#000" stroke-width="3.5" fill="none"/>
<g font-family="'Liberation Serif','DejaVu Serif',serif" font-size="79" fill="#000" stroke="#000" stroke-width="0.4" stroke-linejoin="round">
<text x="350.18" y="2363.6" text-anchor="middle">2.0</text>
<text x="523.32" y="2363.6" text-anchor="middle">2.2</text>
<text x="696.46" y="2363.6" text-anchor="middle">2.4</text>
<text x="869.6" y="2363.6" text-anchor="middle">2.6</text>
<text x="1042.74" y="2363.6" text-anchor="middle">2.8</text>
<text x="1215.88" y="2363.6" text-anchor="middle">3.0</text>
<text x="1389.02" y="2363.6" text-anchor="middle">3.2</text>
<text x="293.1" y="1273.86" text-anchor="end">0.8</text>
<text x="293.1" y="1402.77" text-anchor="end">0.6</text>
<text x="293.1" y="1531.68" text-anchor="end">0.4</text>
<text x="293.1" y="1660.59" text-anchor="end">0.2</text>
<text x="293.1" y="1789.5" text-anchor="end">0.0</text>
<text x="293.1" y="1918.41" text-anchor="end">-0.2</text>
<text x="293.1" y="2047.32" text-anchor="end">-0.4</text>
<text x="293.1" y="2176.23" text-anchor="end">-0.6</text>
<text x="293.1" y="2305.14" text-anchor="end">-0.8</text>
</g>
<defs><linearGradient id="cbg" x1="0" y1="0" x2="0" y2="1"><stop offset="0" stop-color="#00004c"/><stop offset="0.25" stop-color="#0000ff"/><stop offset="0.5" stop-color="#ffffff"/><stop offset="0.75" stop-color="#ff0000"/><stop offset="1" stop-color="#800000"/></linearGradient></defs>
<rect x="1501.9" y="1248.2" width="53.1" height="1047.4" fill="url(#cbg)"/>
<path d="M1556 2264.1h-14.5M1556 2100.1h-14.5M1556 1936.1h-14.5M1556 1772.1h-14.5M1556 1608.1h-14.5M1556 1444.1h-14.5M1556 1280.1h-14.5" stroke="#000" stroke-width="3.5" fill="none"/>
<g font-family="'Liberation Serif','DejaVu Serif',serif" font-size="79" fill="#000" stroke="#000" stroke-width="0.4" stroke-linejoin="round">
<text x="1567" y="2289.7">−3</text>
<text x="1567" y="2125.7">−2</text>
<text x="1567" y="1961.7">−1</text>
<text x="1567" y="1797.7">0</text>
<text x="1567" y="1633.7">1</text>
<text x="1567" y="1469.7">2</text>
<text x="1567" y="1305.7">3</text>
</g>
<text x="-0.2" y="1237.2" font-family="'Liberation Sans','DejaVu Sans',sans-serif" font-size="34.4" fill="#000" stroke="#000" stroke-width="0.3">(e)</text>
<text transform="translate(782.69 2452) scale(1.0614 1)" font-family="'Liberation Serif','DejaVu Serif',serif" font-size="79" font-style="italic" fill="#000" stroke="#000" stroke-width="0.4" stroke-linejoin="round">T</text>
<text transform="translate(847.67 2452) scale(1.0107 1)" font-family="'Liberation Serif','DejaVu Serif',serif" font-size="79" fill="#000" stroke="#000" stroke-width="0.4" stroke-linejoin="round">(K)</text>
<text transform="translate(132.5 1897.82) rotate(-90) scale(1.1200 1)" font-family="'Liberation Serif','DejaVu Serif',serif" font-size="79" font-style="italic" fill="#000" stroke="#000" stroke-width="0.4" stroke-linejoin="round">μ</text>
<text transform="translate(143.5 1857.93) rotate(-90) scale(1.1200 1)" font-family="'Liberation Serif','DejaVu Serif',serif" font-size="56" fill="#000" stroke="#000" stroke-width="0.4" stroke-linejoin="round">0</text>
<text transform="translate(132.5 1822.09) rotate(-90) scale(1.0113 1)" font-family="'Liberation Serif','DejaVu Serif',serif" font-size="79" font-style="italic" fill="#000" stroke="#000" stroke-width="0.4" stroke-linejoin="round">H</text>
<text transform="translate(132.5 1746.21) rotate(-90)" font-family="'Liberation Serif','DejaVu Serif',serif" font-size="79" fill="#000" stroke="#000" stroke-width="0.4" stroke-linejoin="round">(T)</text>
<text transform="translate(1735.3 2008.73) rotate(-90) scale(1.1111 1)" font-family="'Liberation Serif','DejaVu Serif',serif" font-size="79" fill="#000" stroke="#000" stroke-width="0.4" stroke-linejoin="round">Δ</text>
<text transform="translate(1735.3 1954.67) rotate(-90) scale(1.0676 1)" font-family="'Liberation Serif','DejaVu Serif',serif" font-size="79" font-style="italic" fill="#000" stroke="#000" stroke-width="0.4" stroke-linejoin="round">J</text>
<text transform="translate(1745.8 1918.67) rotate(-90) scale(1.0857 1)" font-family="'Liberation Serif','DejaVu Serif',serif" font-size="56" fill="#000" stroke="#000" stroke-width="0.4" stroke-linejoin="round">c</text>
<text transform="translate(1735.3 1869.57) rotate(-90) scale(1.0234 1)" font-family="'Liberation Serif','DejaVu Serif',serif" font-size="79" fill="#000" stroke="#000" stroke-width="0.4" stroke-linejoin="round">(kA cm</text>
<text transform="translate(1706.2 1629.25) rotate(-90) scale(1.1200 1)" font-family="'Liberation Serif','DejaVu Serif',serif" font-size="56" fill="#000" stroke="#000" stroke-width="0.4" stroke-linejoin="round">−2</text>
<text transform="translate(1735.3 1561.79) rotate(-90) scale(1.0952 1)" font-family="'Liberation Serif','DejaVu Serif',serif" font-size="79" fill="#000" stroke="#000" stroke-width="0.4" stroke-linejoin="round">)</text>
</svg>
</body></html>
